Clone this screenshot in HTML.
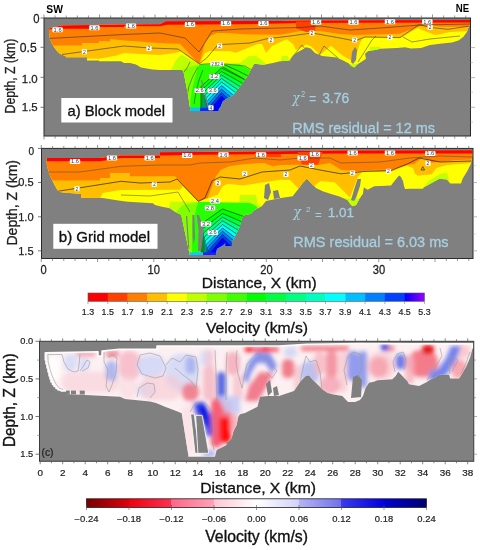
<!DOCTYPE html><html><head><meta charset="utf-8"><title>Velocity models</title><style>html,body{margin:0;padding:0;background:#fff;}svg{display:block;}</style></head><body><svg width="480" height="550" viewBox="0 0 480 550"><rect width="480" height="550" fill="#fff"/><rect x="44" y="18" width="426.5" height="118" fill="#808080"/><clipPath id="cA"><polygon points="49.0,28.5 55.0,27.0 62.0,25.5 124.0,24.5 160.0,24.3 166.0,21.3 280.0,21.0 300.0,20.5 470.5,20.0 470.5,25.5 469.0,25.5 467.0,31.8 463.5,36.8 458.5,40.5 452.0,42.4 442.0,43.6 430.0,44.9 421.0,48.0 411.0,48.6 405.0,47.2 397.0,48.0 380.0,48.8 376.7,49.7 371.7,50.5 368.0,51.3 365.0,53.8 366.0,58.8 361.6,61.7 357.2,64.6 354.3,67.6 351.4,66.1 348.5,63.2 342.6,60.3 336.8,57.4 322.2,55.9 315.0,53.0 310.6,48.6 306.2,47.2 301.8,50.0 296.0,53.0 293.0,55.5 290.0,60.5 280.0,61.3 273.0,63.0 263.3,64.7 254.3,63.7 251.0,69.2 247.7,75.7 243.4,81.2 239.0,87.8 232.5,95.4 226.0,98.7 222.6,100.9 220.5,106.3 218.3,109.6 218.3,111.0 190.5,111.0 190.0,107.4 187.8,93.2 184.5,76.8 183.5,71.4 182.0,70.0 160.0,70.0 152.5,69.4 141.0,67.5 136.0,64.4 130.0,63.0 124.0,63.0 121.0,61.3 99.0,61.3 99.0,60.5 87.0,60.5 87.0,57.2 66.0,57.2 65.7,56.3 59.8,53.8 56.5,50.5 54.0,47.0 51.5,43.0 49.8,38.0 49.0,31.0"/></clipPath><g clip-path="url(#cA)"><rect x="40" y="15" width="440" height="120" fill="#ffff00"/><polygon points="44.0,600.0 44.0,72.0 170.0,72.0 176.0,60.0 181.0,55.0 184.0,56.0 199.3,64.5 205.0,63.0 240.0,63.0 249.0,56.0 256.0,56.0 263.0,61.0 266.0,64.0 280.0,64.0 282.0,56.0 288.0,56.0 290.0,64.0 368.0,64.0 370.0,47.0 380.0,47.0 382.0,64.0 471.0,64.0 471.0,600.0" fill="#bfff00"/><polygon points="176.0,600.0 176.0,74.0 182.0,70.0 190.0,67.0 197.0,65.0 199.3,64.6 205.0,64.8 240.0,64.8 247.0,67.0 256.0,74.0 256.0,600.0" fill="#80ff00"/><polygon points="199.3,64.5 240,64.5 250,70 256,76 256,115 190,115 190.5,100 192,90 194.5,80 196.5,72" fill="#28ff00"/><polygon points="221.5,68.0 301.5,108.0 301.5,122.0 201.0,122.0 201.0,86.5" fill="#00ff00"/><polygon points="221.5,71.5 301.5,116.5 301.5,122.0 202.1,122.0 202.1,89.7" fill="#00ff40"/><polygon points="221.5,75.0 301.5,125.0 301.5,122.0 203.2,122.0 203.2,92.8" fill="#00ff80"/><polygon points="221.5,78.5 301.5,133.5 301.5,122.0 204.4,122.0 204.4,95.8" fill="#00ffbf"/><polygon points="221.5,82.0 301.5,142.0 301.5,122.0 205.5,122.0 205.5,98.8" fill="#00ffff"/><polygon points="221.5,85.5 301.5,150.5 301.5,122.0 206.6,122.0 206.6,101.7" fill="#00bfff"/><polygon points="221.5,89.0 301.5,159.0 301.5,122.0 207.8,122.0 207.8,104.5" fill="#0080ff"/><polygon points="221.5,92.5 301.5,167.5 301.5,122.0 208.9,122.0 208.9,107.2" fill="#0040ff"/><polygon points="221.5,96.0 301.5,176.0 301.5,122.0 210.0,122.0 210.0,109.8" fill="#0000ff"/><polyline points="200.7,117.0 201.0,86.5 221.5,68.0 301.5,108.0" fill="none" stroke="#101810" stroke-width="0.55" /><polyline points="201.8,117.0 202.1,89.7 221.5,71.5 301.5,116.5" fill="none" stroke="#101810" stroke-width="0.55" /><polyline points="202.9,117.0 203.2,92.8 221.5,75.0 301.5,125.0" fill="none" stroke="#101810" stroke-width="0.55" /><polyline points="204.1,117.0 204.4,95.8 221.5,78.5 301.5,133.5" fill="none" stroke="#101810" stroke-width="0.55" /><polyline points="205.2,117.0 205.5,98.8 221.5,82.0 301.5,142.0" fill="none" stroke="#101810" stroke-width="0.55" /><polyline points="206.3,117.0 206.6,101.7 221.5,85.5 301.5,150.5" fill="none" stroke="#101810" stroke-width="0.55" /><polyline points="207.4,117.0 207.8,104.5 221.5,89.0 301.5,159.0" fill="none" stroke="#101810" stroke-width="0.55" /><polyline points="208.6,117.0 208.9,107.2 221.5,92.5 301.5,167.5" fill="none" stroke="#101810" stroke-width="0.55" /><polyline points="209.7,117.0 210.0,109.8 221.5,96.0 301.5,176.0" fill="none" stroke="#101810" stroke-width="0.55" /><line x1="201.5" y1="80" x2="208.5" y2="108" stroke="#808080" stroke-width="1.1"/><polyline points="224.0,64.5 238.0,70.8 248.0,76.0" fill="none" stroke="#101810" stroke-width="0.55" /><polyline points="222.0,66.5 238.0,75.5 244.0,79.0" fill="none" stroke="#101810" stroke-width="0.55" /><rect x="190" y="107.5" width="18" height="4" fill="#00c8ff"/><rect x="200" y="107.5" width="12" height="4" fill="#0030ff"/><polygon points="44.0,0.0 44.0,58.0 99.0,58.8 117.0,55.5 124.0,53.0 140.0,54.0 160.0,55.0 175.0,53.0 182.0,51.0 187.0,56.0 199.3,64.5 205.0,53.0 210.0,51.0 230.0,51.3 236.0,52.7 250.0,47.0 258.0,44.0 262.0,44.0 266.0,53.0 272.0,46.0 286.7,39.3 293.0,44.0 296.0,50.0 301.8,47.0 306.2,44.5 310.6,46.0 315.0,50.0 320.0,55.0 331.0,45.7 342.0,55.0 348.5,59.0 354.3,61.7 360.0,42.8 363.0,38.4 366.0,37.0 400.0,38.0 418.0,28.0 422.0,30.0 435.0,35.0 440.0,34.3 450.0,32.0 471.0,31.0 471.0,0.0" fill="#ffbf00"/><polygon points="44.0,0.0 44.0,45.5 82.0,45.5 82.0,43.0 99.0,43.0 99.0,41.3 110.0,41.3 110.0,39.0 124.0,40.5 140.0,41.5 150.0,42.5 175.0,43.8 180.0,43.8 199.3,64.3 205.0,43.0 210.0,36.3 216.7,33.0 225.0,33.0 250.0,34.5 280.0,34.7 290.0,33.0 300.0,31.0 320.0,31.0 340.0,34.0 355.0,35.0 400.0,33.8 410.0,30.0 420.0,26.0 430.0,25.0 440.0,26.8 471.0,26.8 471.0,0.0" fill="#ff8000"/><polygon points="44.0,0.0 44.0,29.5 62.0,28.8 90.0,28.8 90.0,27.0 124.0,27.0 124.0,26.3 160.0,26.3 167.0,24.7 240.0,24.3 280.0,23.5 300.0,23.0 360.0,22.7 471.0,22.4 471.0,0.0" fill="#ff0000"/><polygon points="296.0,21.5 296.0,28.2 306.2,31.9 315.0,31.1 316.4,21.5" fill="#ff4000"/><polyline points="48.0,38.5 124.0,34.5 160.0,33.0 185.0,38.0 199.0,52.0 212.0,31.0 240.0,29.0 280.0,28.0 300.0,27.5 320.0,26.0 350.0,30.0 380.0,28.0 420.0,25.0 470.0,24.0" fill="none" stroke="#333" stroke-width="0.60" /><polyline points="62.0,54.5 124.0,46.0 150.0,48.0 178.0,49.0 199.3,63.8 206.7,58.0 218.0,44.7 250.0,43.0 266.7,38.8 290.0,36.0 312.0,33.0 340.0,38.0 355.0,41.0 365.0,37.0 390.0,37.5 400.0,37.6 419.0,24.7 430.0,27.4 448.0,29.3 470.0,26.0" fill="none" stroke="#333" stroke-width="0.60" /><polyline points="200.0,64.4 215.0,63.5 225.0,64.0 245.0,66.0 255.0,72.0" fill="none" stroke="#333" stroke-width="0.50" /><polyline points="290.0,60.0 302.0,45.0 312.0,58.0" fill="none" stroke="#333" stroke-width="0.50" /><polyline points="318.0,57.0 324.0,46.0 338.0,58.0" fill="none" stroke="#333" stroke-width="0.50" /><polyline points="358.0,62.0 372.0,40.0 376.0,36.0" fill="none" stroke="#333" stroke-width="0.50" /><polyline points="403.0,37.0 412.0,42.0 430.0,39.0 460.0,36.0" fill="none" stroke="#333" stroke-width="0.50" /><polyline points="190.0,62.0 187.0,68.0 184.0,72.0" fill="none" stroke="#1a3a0a" stroke-width="0.50" /><polyline points="198.0,67.0 193.0,76.0 189.0,86.0 187.0,96.0" fill="none" stroke="#1a3a0a" stroke-width="0.50" /><polyline points="203.0,70.0 199.0,80.0 196.0,92.0 194.0,104.0" fill="none" stroke="#1a3a0a" stroke-width="0.50" /></g><polygon points="351,62 352,52 355,47 357,50 356,60 353,64" fill="#808080"/><rect x="52.4" y="27.2" width="10.4" height="5.0" rx="1" fill="#fff"/><text x="53.6" y="31.5" font-family="Liberation Sans, sans-serif" font-size="5.2" fill="#3a3a3a" textLength="8.0" lengthAdjust="spacingAndGlyphs">1.6</text><rect x="89.2" y="25.2" width="10.4" height="5.0" rx="1" fill="#fff"/><text x="90.4" y="29.5" font-family="Liberation Sans, sans-serif" font-size="5.2" fill="#3a3a3a" textLength="8.0" lengthAdjust="spacingAndGlyphs">1.6</text><rect x="81.8" y="49.2" width="5.2" height="5.0" rx="1" fill="#fff"/><text x="83.0" y="53.5" font-family="Liberation Sans, sans-serif" font-size="5.2" fill="#3a3a3a" textLength="2.8" lengthAdjust="spacingAndGlyphs">2</text><rect x="125.8" y="23.5" width="10.4" height="5.0" rx="1" fill="#fff"/><text x="127.0" y="27.8" font-family="Liberation Sans, sans-serif" font-size="5.2" fill="#3a3a3a" textLength="8.0" lengthAdjust="spacingAndGlyphs">1.6</text><rect x="146.4" y="45.9" width="5.2" height="5.0" rx="1" fill="#fff"/><text x="147.6" y="50.2" font-family="Liberation Sans, sans-serif" font-size="5.2" fill="#3a3a3a" textLength="2.8" lengthAdjust="spacingAndGlyphs">2</text><rect x="184.8" y="22.0" width="10.4" height="5.0" rx="1" fill="#fff"/><text x="186.0" y="26.3" font-family="Liberation Sans, sans-serif" font-size="5.2" fill="#3a3a3a" textLength="8.0" lengthAdjust="spacingAndGlyphs">1.6</text><rect x="220.8" y="20.9" width="10.4" height="5.0" rx="1" fill="#fff"/><text x="222.0" y="25.2" font-family="Liberation Sans, sans-serif" font-size="5.2" fill="#3a3a3a" textLength="8.0" lengthAdjust="spacingAndGlyphs">1.6</text><rect x="258.3" y="20.9" width="10.4" height="5.0" rx="1" fill="#fff"/><text x="259.5" y="25.2" font-family="Liberation Sans, sans-serif" font-size="5.2" fill="#3a3a3a" textLength="8.0" lengthAdjust="spacingAndGlyphs">1.6</text><rect x="217.0" y="43.5" width="5.2" height="5.0" rx="1" fill="#fff"/><text x="218.2" y="47.8" font-family="Liberation Sans, sans-serif" font-size="5.2" fill="#3a3a3a" textLength="2.8" lengthAdjust="spacingAndGlyphs">2</text><rect x="268.4" y="37.5" width="5.2" height="5.0" rx="1" fill="#fff"/><text x="269.6" y="41.8" font-family="Liberation Sans, sans-serif" font-size="5.2" fill="#3a3a3a" textLength="2.8" lengthAdjust="spacingAndGlyphs">2</text><rect x="310.8" y="19.7" width="10.4" height="5.0" rx="1" fill="#fff"/><text x="312.0" y="24.0" font-family="Liberation Sans, sans-serif" font-size="5.2" fill="#3a3a3a" textLength="8.0" lengthAdjust="spacingAndGlyphs">1.6</text><rect x="348.3" y="19.7" width="10.4" height="5.0" rx="1" fill="#fff"/><text x="349.5" y="24.0" font-family="Liberation Sans, sans-serif" font-size="5.2" fill="#3a3a3a" textLength="8.0" lengthAdjust="spacingAndGlyphs">1.6</text><rect x="309.4" y="30.5" width="5.2" height="5.0" rx="1" fill="#fff"/><text x="310.6" y="34.8" font-family="Liberation Sans, sans-serif" font-size="5.2" fill="#3a3a3a" textLength="2.8" lengthAdjust="spacingAndGlyphs">2</text><rect x="352.0" y="37.5" width="5.2" height="5.0" rx="1" fill="#fff"/><text x="353.2" y="41.8" font-family="Liberation Sans, sans-serif" font-size="5.2" fill="#3a3a3a" textLength="2.8" lengthAdjust="spacingAndGlyphs">2</text><rect x="384.8" y="19.3" width="10.4" height="5.0" rx="1" fill="#fff"/><text x="386.0" y="23.6" font-family="Liberation Sans, sans-serif" font-size="5.2" fill="#3a3a3a" textLength="8.0" lengthAdjust="spacingAndGlyphs">1.6</text><rect x="422.1" y="19.3" width="10.4" height="5.0" rx="1" fill="#fff"/><text x="423.3" y="23.6" font-family="Liberation Sans, sans-serif" font-size="5.2" fill="#3a3a3a" textLength="8.0" lengthAdjust="spacingAndGlyphs">1.6</text><rect x="387.4" y="35.1" width="5.2" height="5.0" rx="1" fill="#fff"/><text x="388.6" y="39.4" font-family="Liberation Sans, sans-serif" font-size="5.2" fill="#3a3a3a" textLength="2.8" lengthAdjust="spacingAndGlyphs">2</text><rect x="427.6" y="24.7" width="5.2" height="5.0" rx="1" fill="#fff"/><text x="428.8" y="29.0" font-family="Liberation Sans, sans-serif" font-size="5.2" fill="#3a3a3a" textLength="2.8" lengthAdjust="spacingAndGlyphs">2</text><rect x="210.2" y="61.2" width="14.0" height="5.0" rx="1" fill="#fff"/><text x="211.4" y="65.5" font-family="Liberation Sans, sans-serif" font-size="5.2" fill="#3a3a3a" textLength="11.6" lengthAdjust="spacingAndGlyphs">2.82.4</text><rect x="209.1" y="74.0" width="10.4" height="5.0" rx="1" fill="#fff"/><text x="210.3" y="78.3" font-family="Liberation Sans, sans-serif" font-size="5.2" fill="#3a3a3a" textLength="8.0" lengthAdjust="spacingAndGlyphs">3.2</text><rect x="194.5" y="87.9" width="10.4" height="5.0" rx="1" fill="#fff"/><text x="195.7" y="92.2" font-family="Liberation Sans, sans-serif" font-size="5.2" fill="#3a3a3a" textLength="8.0" lengthAdjust="spacingAndGlyphs">2.6</text><rect x="207.5" y="87.9" width="10.4" height="5.0" rx="1" fill="#fff"/><text x="208.7" y="92.2" font-family="Liberation Sans, sans-serif" font-size="5.2" fill="#3a3a3a" textLength="8.0" lengthAdjust="spacingAndGlyphs">3.6</text><rect x="208.4" y="105.3" width="5.2" height="5.0" rx="1" fill="#fff"/><text x="209.6" y="109.6" font-family="Liberation Sans, sans-serif" font-size="5.2" fill="#3a3a3a" textLength="2.8" lengthAdjust="spacingAndGlyphs">4</text><rect x="44" y="18" width="426.5" height="118" fill="none" stroke="#2a2a2a" stroke-width="1"/><rect x="41.5" y="148.4" width="431.5" height="110.1" fill="#808080"/><clipPath id="cB"><polygon points="46.8,158.0 100.0,158.0 121.0,155.5 160.0,155.5 160.0,152.2 281.0,151.3 341.0,150.5 472.5,150.3 472.5,154.0 471.0,163.4 467.3,171.0 462.6,178.8 461.0,183.4 450.3,183.4 447.0,179.6 439.5,178.8 438.0,179.6 424.0,187.3 422.6,188.8 410.0,188.8 405.0,189.0 404.0,186.0 403.0,181.0 401.0,177.0 399.3,175.5 397.7,177.0 394.3,181.3 391.0,185.5 374.3,186.3 367.7,189.7 363.8,187.5 363.0,193.8 361.2,196.2 358.8,200.0 356.2,205.0 352.5,206.2 350.0,203.8 347.5,200.0 338.8,196.2 331.0,194.0 322.7,191.3 316.0,188.0 311.0,183.0 306.8,178.8 302.7,183.0 297.7,189.7 292.7,196.3 281.0,198.0 266.0,201.0 262.0,206.0 258.3,208.1 254.5,210.0 250.8,213.8 243.3,215.6 241.4,219.4 239.5,227.0 235.8,234.4 233.0,240.0 231.8,240.0 231.8,246.0 225.5,246.0 225.5,242.5 223.0,245.0 216.8,248.8 215.5,253.8 215.5,255.0 189.8,255.0 189.3,252.5 181.4,215.6 180.0,214.2 175.0,211.7 170.0,208.3 162.0,206.7 155.0,205.0 153.0,203.3 128.0,201.7 120.0,200.8 102.7,198.0 81.0,198.0 81.0,194.0 61.0,192.2 57.7,190.5 55.2,186.3 52.7,181.3 50.2,176.3 48.5,171.3 46.8,164.7"/></clipPath><g clip-path="url(#cB)"><rect x="40" y="145" width="440" height="115" fill="#ffff00"/><polygon points="44.0,600.0 44.0,215.0 168.0,215.0 170.0,201.7 183.0,201.7 198.3,201.6 210.0,204.0 239.0,204.0 240.0,195.0 256.0,195.0 258.0,205.0 262.0,206.0 340.0,215.0 420.0,215.0 422.6,188.0 430.0,180.0 440.0,174.0 447.0,172.7 449.0,180.0 450.0,215.0 473.0,215.0 473.0,600.0" fill="#bfff00"/><polygon points="172.0,600.0 172.0,216.0 183.0,205.0 198.3,202.0 215.0,206.0 243.0,206.0 250.0,213.0 262.0,216.0 262.0,600.0" fill="#80ff00"/><polygon points="345,198.5 359,198.5 359,208 345,208" fill="#bfff00"/><polygon points="198.3,201.8 250,203 256,206 262,212 262,260 192,260 192,225" fill="#28ff00"/><polygon points="222.5,209.0 302.5,237.0 302.5,266.0 201.5,266.0 201.5,223.7" fill="#00ff00"/><polygon points="222.5,213.5 302.5,248.0 302.5,266.0 202.4,266.0 202.4,228.8" fill="#00ff40"/><polygon points="222.5,217.2 302.5,258.2 302.5,266.0 203.4,266.0 203.4,233.0" fill="#00ff80"/><polygon points="222.5,220.8 302.5,268.3 302.5,266.0 204.3,266.0 204.3,236.9" fill="#00ffbf"/><polygon points="222.5,224.5 302.5,278.5 302.5,266.0 205.2,266.0 205.2,240.9" fill="#00ffff"/><polygon points="222.5,228.0 302.5,288.5 302.5,266.0 206.2,266.0 206.2,244.5" fill="#00bfff"/><polygon points="222.5,231.2 302.5,298.2 302.5,266.0 207.1,266.0 207.1,247.8" fill="#0080ff"/><polygon points="222.5,234.5 302.5,308.0 302.5,266.0 208.1,266.0 208.1,250.9" fill="#0040ff"/><polygon points="222.5,238.0 302.5,318.0 302.5,266.0 209.0,266.0 209.0,254.2" fill="#0000ff"/><polyline points="201.2,261.0 201.5,223.7 222.5,209.0 302.5,237.0" fill="none" stroke="#101810" stroke-width="0.55" /><polyline points="202.1,261.0 202.4,228.8 222.5,213.5 302.5,248.0" fill="none" stroke="#101810" stroke-width="0.55" /><polyline points="203.1,261.0 203.4,233.0 222.5,217.2 302.5,258.2" fill="none" stroke="#101810" stroke-width="0.55" /><polyline points="204.0,261.0 204.3,236.9 222.5,220.8 302.5,268.3" fill="none" stroke="#101810" stroke-width="0.55" /><polyline points="204.9,261.0 205.2,240.9 222.5,224.5 302.5,278.5" fill="none" stroke="#101810" stroke-width="0.55" /><polyline points="205.9,261.0 206.2,244.5 222.5,228.0 302.5,288.5" fill="none" stroke="#101810" stroke-width="0.55" /><polyline points="206.8,261.0 207.1,247.8 222.5,231.2 302.5,298.2" fill="none" stroke="#101810" stroke-width="0.55" /><polyline points="207.8,261.0 208.1,250.9 222.5,234.5 302.5,308.0" fill="none" stroke="#101810" stroke-width="0.55" /><polyline points="208.7,261.0 209.0,254.2 222.5,238.0 302.5,318.0" fill="none" stroke="#101810" stroke-width="0.55" /><rect x="189" y="252.3" width="14" height="3" fill="#00d0ff"/><rect x="203" y="252.3" width="13" height="3" fill="#2020ff"/><polygon points="44.0,0.0 44.0,199.0 100.0,199.0 102.7,193.0 121.0,190.0 180.0,189.7 183.0,186.0 198.3,201.6 217.7,194.7 222.7,186.3 227.7,183.8 242.7,185.5 259.3,183.0 281.0,179.7 290.0,180.0 300.0,190.0 310.0,190.0 318.0,183.0 321.0,181.0 335.0,182.5 350.0,197.5 357.5,177.5 362.0,172.0 391.0,172.0 400.0,168.0 407.0,166.0 413.0,168.0 415.0,174.0 418.0,175.7 431.8,174.2 436.4,168.0 447.0,165.0 473.0,163.0 473.0,0.0" fill="#ffbf00"/><polygon points="44.0,0.0 44.0,180.5 100.0,180.5 100.0,178.0 110.0,178.0 110.0,173.0 130.0,173.0 130.0,176.3 175.0,176.3 198.3,201.6 207.7,198.0 212.7,184.7 216.0,176.3 221.0,169.7 229.3,166.3 239.3,164.7 251.0,163.8 264.3,163.0 272.7,166.3 281.0,165.0 300.0,164.7 320.0,164.7 330.0,163.0 341.0,169.7 357.7,171.3 374.3,169.7 391.0,169.7 407.7,164.7 414.0,164.0 421.0,158.8 424.0,157.2 428.7,163.0 439.5,162.0 455.0,160.3 473.0,159.6 473.0,0.0" fill="#ff8000"/><polygon points="44.0,0.0 44.0,161.3 100.0,161.3 121.0,158.0 160.0,158.0 160.0,155.5 201.0,154.7 281.0,154.0 341.0,153.5 401.0,153.4 473.0,153.4 473.0,0.0" fill="#ff0000"/><polygon points="297.7,152.0 322.7,152.0 318.0,164.7 302.0,164.7" fill="#ff4000"/><rect x="255" y="154" width="26" height="3" fill="#ff4000"/><polygon points="186,216 187.2,216 189.3,249 188.2,249" fill="#808080"/><polygon points="192.3,215 194.3,215 195,238 193.8,244 192.8,238" fill="#808080"/><polygon points="196.7,215 199,215 203.9,230 201,251 198,251 198.6,230" fill="#808080"/><polygon points="265,185 269,183 271,192 268,200 264,198" fill="#808080"/><polygon points="273,191 278,190 280,198 274,199" fill="#808080"/><polygon points="351,200 354,190 357.5,179 361,179 360,186 356,198 354,201" fill="#808080"/><polyline points="48.0,172.0 80.0,172.0 121.0,166.3 160.0,165.0 190.0,165.0 200.0,163.0 230.0,162.0 255.0,158.0 280.0,160.0 300.0,158.0 330.0,158.0 341.0,163.0 380.0,162.0 410.0,158.0 440.0,156.0 472.0,157.0" fill="none" stroke="#443" stroke-width="0.50" /><polyline points="57.7,191.3 121.0,181.3 140.0,183.0 170.0,182.0 177.0,179.0 198.3,201.3 205.0,198.0 212.0,181.0 220.0,177.0 240.0,179.0 262.0,172.0 290.0,170.0 300.0,166.0 320.0,170.0 341.0,173.8 366.0,171.3 391.0,170.5 407.7,163.8 419.0,158.0 440.0,162.0 472.0,161.0" fill="none" stroke="#222" stroke-width="0.70" /><polyline points="121.0,195.0 150.0,196.0 178.0,192.0 190.0,212.0" fill="none" stroke="#443" stroke-width="0.50" /></g><rect x="69.8" y="159.0" width="10.4" height="5.0" rx="1" fill="#fff"/><text x="71.0" y="163.3" font-family="Liberation Sans, sans-serif" font-size="5.2" fill="#3a3a3a" textLength="8.0" lengthAdjust="spacingAndGlyphs">1.6</text><rect x="106.8" y="155.5" width="10.4" height="5.0" rx="1" fill="#fff"/><text x="108.0" y="159.8" font-family="Liberation Sans, sans-serif" font-size="5.2" fill="#3a3a3a" textLength="8.0" lengthAdjust="spacingAndGlyphs">1.6</text><rect x="144.5" y="155.5" width="10.4" height="5.0" rx="1" fill="#fff"/><text x="145.7" y="159.8" font-family="Liberation Sans, sans-serif" font-size="5.2" fill="#3a3a3a" textLength="8.0" lengthAdjust="spacingAndGlyphs">1.6</text><rect x="182.0" y="153.0" width="10.4" height="5.0" rx="1" fill="#fff"/><text x="183.2" y="157.3" font-family="Liberation Sans, sans-serif" font-size="5.2" fill="#3a3a3a" textLength="8.0" lengthAdjust="spacingAndGlyphs">1.6</text><rect x="218.3" y="152.2" width="10.4" height="5.0" rx="1" fill="#fff"/><text x="219.5" y="156.5" font-family="Liberation Sans, sans-serif" font-size="5.2" fill="#3a3a3a" textLength="8.0" lengthAdjust="spacingAndGlyphs">1.6</text><rect x="255.8" y="152.2" width="10.4" height="5.0" rx="1" fill="#fff"/><text x="257.0" y="156.5" font-family="Liberation Sans, sans-serif" font-size="5.2" fill="#3a3a3a" textLength="8.0" lengthAdjust="spacingAndGlyphs">1.6</text><rect x="297.5" y="155.5" width="10.4" height="5.0" rx="1" fill="#fff"/><text x="298.7" y="159.8" font-family="Liberation Sans, sans-serif" font-size="5.2" fill="#3a3a3a" textLength="8.0" lengthAdjust="spacingAndGlyphs">1.6</text><rect x="309.8" y="151.8" width="10.4" height="5.0" rx="1" fill="#fff"/><text x="311.0" y="156.1" font-family="Liberation Sans, sans-serif" font-size="5.2" fill="#3a3a3a" textLength="8.0" lengthAdjust="spacingAndGlyphs">1.6</text><rect x="347.5" y="150.5" width="10.4" height="5.0" rx="1" fill="#fff"/><text x="348.7" y="154.8" font-family="Liberation Sans, sans-serif" font-size="5.2" fill="#3a3a3a" textLength="8.0" lengthAdjust="spacingAndGlyphs">1.6</text><rect x="384.8" y="150.5" width="10.4" height="5.0" rx="1" fill="#fff"/><text x="386.0" y="154.8" font-family="Liberation Sans, sans-serif" font-size="5.2" fill="#3a3a3a" textLength="8.0" lengthAdjust="spacingAndGlyphs">1.6</text><rect x="425.1" y="150.9" width="10.4" height="5.0" rx="1" fill="#fff"/><text x="426.3" y="155.2" font-family="Liberation Sans, sans-serif" font-size="5.2" fill="#3a3a3a" textLength="8.0" lengthAdjust="spacingAndGlyphs">1.6</text><rect x="74.4" y="186.3" width="5.2" height="5.0" rx="1" fill="#fff"/><text x="75.6" y="190.6" font-family="Liberation Sans, sans-serif" font-size="5.2" fill="#3a3a3a" textLength="2.8" lengthAdjust="spacingAndGlyphs">2</text><rect x="151.7" y="182.0" width="5.2" height="5.0" rx="1" fill="#fff"/><text x="152.9" y="186.3" font-family="Liberation Sans, sans-serif" font-size="5.2" fill="#3a3a3a" textLength="2.8" lengthAdjust="spacingAndGlyphs">2</text><rect x="215.4" y="180.5" width="5.2" height="5.0" rx="1" fill="#fff"/><text x="216.6" y="184.8" font-family="Liberation Sans, sans-serif" font-size="5.2" fill="#3a3a3a" textLength="2.8" lengthAdjust="spacingAndGlyphs">2</text><rect x="242.1" y="171.3" width="5.2" height="5.0" rx="1" fill="#fff"/><text x="243.3" y="175.6" font-family="Liberation Sans, sans-serif" font-size="5.2" fill="#3a3a3a" textLength="2.8" lengthAdjust="spacingAndGlyphs">2</text><rect x="283.4" y="172.0" width="5.2" height="5.0" rx="1" fill="#fff"/><text x="284.6" y="176.3" font-family="Liberation Sans, sans-serif" font-size="5.2" fill="#3a3a3a" textLength="2.8" lengthAdjust="spacingAndGlyphs">2</text><rect x="308.9" y="163.0" width="5.2" height="5.0" rx="1" fill="#fff"/><text x="310.1" y="167.3" font-family="Liberation Sans, sans-serif" font-size="5.2" fill="#3a3a3a" textLength="2.8" lengthAdjust="spacingAndGlyphs">2</text><rect x="349.9" y="170.5" width="5.2" height="5.0" rx="1" fill="#fff"/><text x="351.1" y="174.8" font-family="Liberation Sans, sans-serif" font-size="5.2" fill="#3a3a3a" textLength="2.8" lengthAdjust="spacingAndGlyphs">2</text><rect x="385.9" y="168.8" width="5.2" height="5.0" rx="1" fill="#fff"/><text x="387.1" y="173.1" font-family="Liberation Sans, sans-serif" font-size="5.2" fill="#3a3a3a" textLength="2.8" lengthAdjust="spacingAndGlyphs">2</text><rect x="425.4" y="160.8" width="5.2" height="5.0" rx="1" fill="#fff"/><text x="426.6" y="165.1" font-family="Liberation Sans, sans-serif" font-size="5.2" fill="#3a3a3a" textLength="2.8" lengthAdjust="spacingAndGlyphs">2</text><rect x="209.8" y="198.5" width="10.4" height="5.0" rx="1" fill="#fff"/><text x="211.0" y="202.8" font-family="Liberation Sans, sans-serif" font-size="5.2" fill="#3a3a3a" textLength="8.0" lengthAdjust="spacingAndGlyphs">2.4</text><rect x="204.8" y="205.5" width="10.4" height="5.0" rx="1" fill="#fff"/><text x="206.0" y="209.8" font-family="Liberation Sans, sans-serif" font-size="5.2" fill="#3a3a3a" textLength="8.0" lengthAdjust="spacingAndGlyphs">2.8</text><rect x="200.8" y="221.5" width="10.4" height="5.0" rx="1" fill="#fff"/><text x="202.0" y="225.8" font-family="Liberation Sans, sans-serif" font-size="5.2" fill="#3a3a3a" textLength="8.0" lengthAdjust="spacingAndGlyphs">3.2</text><rect x="207.6" y="230.0" width="10.4" height="5.0" rx="1" fill="#fff"/><text x="208.8" y="234.3" font-family="Liberation Sans, sans-serif" font-size="5.2" fill="#3a3a3a" textLength="8.0" lengthAdjust="spacingAndGlyphs">3.6</text><polygon points="421,170 422.8,166.6 424.6,170" fill="none" stroke="#222" stroke-width="0.7"/><rect x="41.5" y="148.4" width="431.5" height="110.1" fill="none" stroke="#2a2a2a" stroke-width="1"/><rect x="39.5" y="341.3" width="434.25" height="119.95" fill="#808080"/><clipPath id="cC"><polygon points="45.3,352.7 98.0,351.8 98.0,356.0 102.0,356.0 102.0,351.0 119.0,349.3 157.0,349.3 157.0,346.0 199.0,346.0 279.0,346.0 307.0,344.3 359.0,343.5 414.0,343.8 472.5,343.8 472.5,348.5 470.2,357.2 466.5,366.0 461.5,374.8 459.0,378.5 450.2,378.5 449.0,374.8 439.0,374.8 435.2,377.2 430.2,379.8 426.5,382.2 421.5,384.8 419.0,386.0 409.0,384.3 407.3,381.0 404.0,377.7 400.7,374.3 398.2,371.8 395.7,376.0 392.3,379.3 377.3,380.2 374.0,381.8 369.0,382.7 365.7,387.7 363.0,396.0 360.0,400.0 355.0,402.0 348.0,402.0 342.3,396.0 332.3,394.3 327.3,392.7 322.3,389.3 317.3,384.3 312.3,379.3 309.0,375.2 305.7,376.0 300.7,381.0 297.3,386.0 294.0,391.0 279.0,396.0 268.0,396.0 260.0,396.8 257.5,406.8 250.0,410.5 245.0,413.0 240.0,414.2 238.3,416.7 236.7,425.0 233.3,431.7 231.7,438.3 228.3,441.7 226.7,445.0 216.7,450.0 215.0,456.7 188.3,456.7 188.3,455.0 181.7,413.3 175.0,410.5 165.0,406.8 156.0,403.0 150.0,401.5 140.0,400.5 125.0,399.0 120.0,396.8 66.0,394.0 66.0,391.0 61.0,391.0 61.0,390.0 58.0,390.0 58.0,388.5 56.0,388.5 56.0,386.5 54.0,386.5 54.0,384.5 52.5,384.5 52.5,382.0 51.0,382.0 51.0,379.0 50.0,379.0 50.0,376.0 49.0,376.0 49.0,372.0 48.0,372.0 48.0,368.0 47.0,368.0 47.0,364.0 46.0,364.0 46.0,360.0 45.3,360.0"/></clipPath><filter id="bl" x="-50%" y="-50%" width="200%" height="200%"><feGaussianBlur stdDeviation="2.3"/></filter><g clip-path="url(#cC)"><rect x="38" y="340" width="440" height="122" fill="#fcf0f2"/><g filter="url(#bl)"><rect x="62" y="372" width="57" height="20" rx="9.1" fill="#f8d2da" opacity="0.7"/><rect x="64" y="354" width="13" height="17" rx="5.9" fill="#d6daf8" opacity="0.9"/><rect x="79" y="358" width="10" height="13" rx="4.5" fill="#d6daf8" opacity="0.9"/><rect x="105.7" y="361" width="11.3" height="20" rx="5.1" fill="#a8b2ee" opacity="0.9"/><rect x="75.7" y="351" width="20" height="6" rx="2.7" fill="#f4a0b0" opacity="0.8"/><rect x="105.7" y="351" width="13.3" height="6" rx="2.7" fill="#f08090" opacity="0.9"/><rect x="48" y="356" width="12" height="24" rx="5.5" fill="#ffffff" opacity="0.8"/><rect x="119" y="351" width="21" height="29" rx="9.5" fill="#f6b4c2" opacity="0.8"/><rect x="137" y="355" width="28" height="22" rx="10.0" fill="#d2d7f7" opacity="0.9"/><rect x="137" y="383" width="18" height="14" rx="6.4" fill="#d8dcf8" opacity="0.9"/><rect x="165.7" y="354" width="33.3" height="37" rx="15.1" fill="#d0d6f6" opacity="0.8"/><rect x="185.7" y="356" width="10" height="18" rx="4.5" fill="#a6b0ee" opacity="0.9"/><rect x="182" y="383" width="17" height="18" rx="7.7" fill="#f07888" opacity="0.9"/><rect x="140" y="375" width="42" height="25" rx="11.4" fill="#f6c8d0" opacity="0.6"/><rect x="119" y="375" width="18" height="24" rx="8.2" fill="#f8d4da" opacity="0.5"/><rect x="244" y="347" width="35" height="5" rx="2.3" fill="#f45060" opacity="0.9"/><rect x="245.7" y="347" width="6.6" height="5" rx="2.3" fill="#ff1010" opacity="1"/><rect x="262" y="347" width="7" height="5" rx="2.3" fill="#ff1818" opacity="1"/><rect x="217" y="372" width="8.7" height="29" rx="4.0" fill="#5a6ae2" opacity="1"/><rect x="226" y="352" width="14" height="23" rx="6.4" fill="#f4a8b6" opacity="0.8"/><rect x="200" y="350" width="12" height="16" rx="5.5" fill="#d6daf8" opacity="0.9"/><rect x="203" y="366" width="12" height="34" rx="5.5" fill="#f4b4c0" opacity="0.8"/><rect x="233" y="375" width="10" height="25" rx="4.5" fill="#f6c0ca" opacity="0.8"/><rect x="282" y="359" width="12" height="19" rx="5.5" fill="#f07080" opacity="0.9"/><rect x="325.7" y="351" width="11.6" height="27" rx="5.3" fill="#f07888" opacity="0.75"/><rect x="300.7" y="346" width="48.3" height="5" rx="2.3" fill="#f05060" opacity="0.7"/><rect x="284" y="347" width="13" height="10" rx="4.5" fill="#d0d6f6" opacity="0.9"/><rect x="300.7" y="361" width="18.3" height="23" rx="8.3" fill="#b4bcf0" opacity="0.9"/><rect x="347.3" y="351" width="11.7" height="30" rx="5.3" fill="#8692ee" opacity="0.9"/><rect x="314" y="352" width="11" height="23" rx="5.0" fill="#f6b4c0" opacity="0.8"/><rect x="338" y="352" width="9" height="40" rx="4.1" fill="#f8c8d0" opacity="0.8"/><rect x="320" y="376" width="20" height="18" rx="8.2" fill="#f4a0b0" opacity="0.8"/><rect x="294" y="365" width="6" height="25" rx="2.7" fill="#f8c0c8" opacity="0.8"/><rect x="370" y="357" width="18" height="20" rx="8.2" fill="#ef5a6c" opacity="0.95"/><rect x="408" y="350" width="30" height="27" rx="12.3" fill="#f26878" opacity="0.85"/><rect x="422" y="345" width="12" height="9" rx="4.1" fill="#e41818" opacity="1"/><rect x="359" y="351" width="8" height="36.7" rx="3.6" fill="#8894ea" opacity="0.9"/><rect x="381" y="344" width="9" height="7" rx="3.2" fill="#3a4ae0" opacity="1"/><rect x="395.7" y="354.3" width="10" height="15" rx="4.5" fill="#6c7ce8" opacity="1"/><rect x="429" y="369.3" width="10" height="11.7" rx="4.5" fill="#8692ee" opacity="0.9"/><rect x="367" y="352" width="28" height="28" rx="12.7" fill="#f8c4cc" opacity="0.7"/><rect x="405" y="355" width="9" height="29" rx="4.1" fill="#f6b0bc" opacity="0.8"/><rect x="387" y="345" width="8" height="7" rx="3.2" fill="#f08898" opacity="0.8"/><rect x="451.5" y="359.75" width="15" height="18.75" rx="6.8" fill="#f6a0a8" opacity="0.9"/><rect x="453" y="345" width="17" height="13" rx="5.9" fill="#f8c0c8" opacity="0.8"/><rect x="182" y="405" width="14" height="47" rx="6.4" fill="#fbe0e4" opacity="0.8"/><rect x="203" y="450" width="12" height="7" rx="3.2" fill="#a8b0f0" opacity="0.9"/><rect x="211" y="398" width="11" height="49.5" rx="5.0" fill="#f4506a" opacity="0.9"/><rect x="219.7" y="416" width="11.3" height="27" rx="5.1" fill="#ff1010" opacity="1"/><rect x="222" y="400" width="10" height="18" rx="4.5" fill="#f26a80" opacity="0.9"/><rect x="230" y="414" width="8" height="18" rx="3.6" fill="#f4a0ae" opacity="0.8"/><rect x="183" y="412" width="9" height="40" rx="4.1" fill="#fce4e8" opacity="0.6"/><polygon points="193.0,404.0 203.0,401.0 211.0,415.0 212.0,436.0 207.0,436.0 202.2,416.0 195.7,416.0" fill="#4050ea" opacity="1"/><polygon points="198.0,406.0 205.0,405.0 209.0,418.0 209.0,427.0 205.0,427.0 201.0,414.0" fill="#0008e0" opacity="1"/><polygon points="217.0,396.0 240.0,396.0 240.0,414.0 226.0,412.0" fill="#c4caf4" opacity="0.9"/><polygon points="243.0,378.0 249.0,362.0 257.0,352.0 270.0,353.0 277.0,366.0 272.0,373.0 265.0,363.0 257.0,363.0 251.0,373.0 247.0,384.0" fill="#7d8ae8" opacity="0.95"/><polygon points="245.0,401.0 249.0,386.0 260.0,372.0 273.0,373.0 267.0,386.0 258.0,401.0" fill="#f07082" opacity="0.9"/><polygon points="205.0,350.0 214.0,350.0 214.0,401.0 205.0,401.0" fill="#f6c0ca" opacity="0.6"/><polygon points="428.0,381.0 436.0,372.0 446.0,358.0 451.0,346.0 461.0,346.0 456.0,360.0 447.0,374.0 439.0,381.0" fill="#6e7eee" opacity="0.95"/></g><polygon points="190.6,414 194.2,414 199.3,453.3 195,453.3" fill="#808080" stroke="#fff" stroke-width="0.8"/><polygon points="195.7,415.4 202.2,415.4 208.8,453.3 197.9,453.3" fill="#808080" stroke="#fff" stroke-width="0.8"/><polygon points="226.7,441.7 231.7,441.7 231.7,446.7 226.7,446.7" fill="#808080"/><polygon points="351,398 353,377 358,375 362,380 361,397" fill="#808080"/><polygon points="266,384 270,380 272,392 268,396" fill="#808080"/><rect x="66" y="390.6" width="3.75" height="4" fill="#808080"/><rect x="71" y="390.6" width="5" height="4" fill="#808080"/><rect x="79.75" y="390.6" width="5" height="4" fill="#808080"/><polygon points="273,388 277,386 279,395 274,396" fill="#808080"/><polyline points="80.0,354.0 79.0,365.0 78.0,371.0 74.0,372.0 68.0,369.0 64.0,362.0 62.0,354.5 47.8,354.5 48.2,362.0 50.2,370.0 53.0,378.0 56.0,384.0 59.5,388.5 63.0,389.5" fill="none" stroke="#9a9a9a" stroke-width="0.60" /><polyline points="80.0,371.0 84.0,365.0 87.0,360.0 90.0,362.0 88.0,368.0 82.0,371.0" fill="none" stroke="#9a9a9a" stroke-width="0.60" /><polyline points="104.0,352.0 104.0,362.0 108.0,370.0 106.0,386.0 109.0,392.0 112.0,385.0 116.0,372.0 117.0,358.0 113.0,355.0 108.0,357.0" fill="none" stroke="#9a9a9a" stroke-width="0.60" /><polyline points="140.0,355.0 137.0,365.0 142.0,374.0 155.0,378.0 163.0,376.0 166.0,368.0 160.0,356.0 150.0,353.0 140.0,355.0" fill="none" stroke="#9a9a9a" stroke-width="0.60" /><polyline points="137.0,397.0 139.0,388.0 147.0,383.0 154.0,384.0 155.0,392.0 150.0,398.0" fill="none" stroke="#9a9a9a" stroke-width="0.60" /><polyline points="166.0,365.0 172.0,358.0 180.0,362.0 186.0,355.0 196.0,357.0 198.0,370.0 196.0,388.0 190.0,380.0 183.0,375.0 175.0,368.0" fill="none" stroke="#9a9a9a" stroke-width="0.60" /><polyline points="237.0,350.0 236.0,362.0 238.0,374.0 242.0,388.0 244.0,378.0 247.0,364.0 256.0,354.0 266.0,356.0 270.0,363.0 277.0,371.0 272.0,378.0 266.0,372.0" fill="none" stroke="#9a9a9a" stroke-width="0.60" /><polyline points="215.0,350.0 216.0,372.0 217.0,400.0" fill="none" stroke="#9a9a9a" stroke-width="0.60" /><polyline points="227.0,352.0 226.0,372.0 226.0,400.0" fill="none" stroke="#9a9a9a" stroke-width="0.60" /><polyline points="190.0,412.0 196.0,402.0 206.0,403.0 212.0,412.0 214.0,428.0 212.0,440.0 214.0,450.0" fill="none" stroke="#9a9a9a" stroke-width="0.60" /><polyline points="300.0,382.0 304.0,364.0 306.0,356.0 310.0,362.0 316.0,360.0 320.0,372.0 322.0,389.0" fill="none" stroke="#9a9a9a" stroke-width="0.60" /><polyline points="347.0,385.0 344.0,370.0 348.0,356.0 354.0,352.0 360.0,354.0 362.0,366.0 358.0,378.0" fill="none" stroke="#9a9a9a" stroke-width="0.60" /><polyline points="395.0,372.0 393.0,362.0 397.0,354.0 403.0,352.0 406.0,360.0 404.0,370.0" fill="none" stroke="#9a9a9a" stroke-width="0.60" /><polyline points="440.0,348.0 442.0,356.0 436.0,366.0 427.0,380.0" fill="none" stroke="#9a9a9a" stroke-width="0.60" /><polyline points="450.0,374.0 448.0,362.0 452.0,356.0 458.0,360.0 455.0,366.0 452.0,372.0" fill="none" stroke="#9a9a9a" stroke-width="0.60" /><polyline points="461.0,374.0 466.0,363.0 470.0,352.0" fill="none" stroke="#9a9a9a" stroke-width="0.60" /></g><polyline points="66.0,391.0 61.0,391.0 61.0,390.0 58.0,390.0 58.0,388.5 56.0,388.5 56.0,386.5 54.0,386.5 54.0,384.5 52.5,384.5 52.5,382.0 51.0,382.0 51.0,379.0 50.0,379.0 50.0,376.0 49.0,376.0 49.0,372.0 48.0,372.0 48.0,368.0 47.0,368.0 47.0,364.0 46.0,364.0 46.0,360.0 45.3,360.0 45.3,352.7 98.0,351.8 98.0,356.0 102.0,356.0 102.0,351.0 119.0,349.3 157.0,349.3 157.0,346.0 199.0,346.0 279.0,346.0 307.0,344.3 359.0,343.5 414.0,343.8 472.5,343.8 472.5,348.5" fill="none" stroke="#ffffff" stroke-width="1.60" opacity="0.95" stroke-linejoin="round"/><rect x="39.5" y="341.3" width="434.25" height="119.95" fill="none" stroke="#3a3a3a" stroke-width="1"/><line x1="40.5" y1="18" x2="44" y2="18" stroke="#555" stroke-width="0.8"/><line x1="40.5" y1="47.3" x2="44" y2="47.3" stroke="#555" stroke-width="0.8"/><line x1="40.5" y1="77.3" x2="44" y2="77.3" stroke="#555" stroke-width="0.8"/><line x1="40.5" y1="107.3" x2="44" y2="107.3" stroke="#555" stroke-width="0.8"/><line x1="38" y1="148.4" x2="41.5" y2="148.4" stroke="#555" stroke-width="0.8"/><line x1="38" y1="182.5" x2="41.5" y2="182.5" stroke="#555" stroke-width="0.8"/><line x1="38" y1="216.8" x2="41.5" y2="216.8" stroke="#555" stroke-width="0.8"/><line x1="38" y1="250.8" x2="41.5" y2="250.8" stroke="#555" stroke-width="0.8"/><line x1="470.5" y1="47.6" x2="475" y2="47.6" stroke="#999" stroke-width="0.7"/><line x1="470.5" y1="77.6" x2="475" y2="77.6" stroke="#999" stroke-width="0.7"/><line x1="470.5" y1="107.3" x2="475" y2="107.3" stroke="#999" stroke-width="0.7"/><line x1="470.5" y1="62.5" x2="473" y2="62.5" stroke="#aaa" stroke-width="0.6"/><line x1="470.5" y1="92.3" x2="473" y2="92.3" stroke="#aaa" stroke-width="0.6"/><line x1="470.5" y1="122" x2="473" y2="122" stroke="#aaa" stroke-width="0.6"/><line x1="473" y1="182.5" x2="477" y2="182.5" stroke="#999" stroke-width="0.7"/><line x1="473" y1="216.8" x2="477" y2="216.8" stroke="#999" stroke-width="0.7"/><line x1="473" y1="250.8" x2="477" y2="250.8" stroke="#999" stroke-width="0.7"/><line x1="473" y1="165.5" x2="475.5" y2="165.5" stroke="#aaa" stroke-width="0.6"/><line x1="473" y1="199.6" x2="475.5" y2="199.6" stroke="#aaa" stroke-width="0.6"/><line x1="473" y1="233.8" x2="475.5" y2="233.8" stroke="#aaa" stroke-width="0.6"/><line x1="41.30" y1="258.5" x2="41.30" y2="262.00" stroke="#666" stroke-width="0.7"/><line x1="41.30" y1="148.4" x2="41.30" y2="144.90" stroke="#666" stroke-width="0.7"/><line x1="44.00" y1="136" x2="44.00" y2="139.50" stroke="#666" stroke-width="0.7"/><line x1="44.00" y1="18" x2="44.00" y2="14.50" stroke="#666" stroke-width="0.7"/><line x1="52.55" y1="258.5" x2="52.55" y2="261.00" stroke="#666" stroke-width="0.7"/><line x1="52.55" y1="148.4" x2="52.55" y2="145.90" stroke="#666" stroke-width="0.7"/><line x1="55.10" y1="136" x2="55.10" y2="138.50" stroke="#666" stroke-width="0.7"/><line x1="55.10" y1="18" x2="55.10" y2="15.50" stroke="#666" stroke-width="0.7"/><line x1="63.80" y1="258.5" x2="63.80" y2="261.00" stroke="#666" stroke-width="0.7"/><line x1="63.80" y1="148.4" x2="63.80" y2="145.90" stroke="#666" stroke-width="0.7"/><line x1="66.20" y1="136" x2="66.20" y2="138.50" stroke="#666" stroke-width="0.7"/><line x1="66.20" y1="18" x2="66.20" y2="15.50" stroke="#666" stroke-width="0.7"/><line x1="75.05" y1="258.5" x2="75.05" y2="261.00" stroke="#666" stroke-width="0.7"/><line x1="75.05" y1="148.4" x2="75.05" y2="145.90" stroke="#666" stroke-width="0.7"/><line x1="77.30" y1="136" x2="77.30" y2="138.50" stroke="#666" stroke-width="0.7"/><line x1="77.30" y1="18" x2="77.30" y2="15.50" stroke="#666" stroke-width="0.7"/><line x1="86.30" y1="258.5" x2="86.30" y2="261.00" stroke="#666" stroke-width="0.7"/><line x1="86.30" y1="148.4" x2="86.30" y2="145.90" stroke="#666" stroke-width="0.7"/><line x1="88.40" y1="136" x2="88.40" y2="138.50" stroke="#666" stroke-width="0.7"/><line x1="88.40" y1="18" x2="88.40" y2="15.50" stroke="#666" stroke-width="0.7"/><line x1="97.55" y1="258.5" x2="97.55" y2="262.00" stroke="#666" stroke-width="0.7"/><line x1="97.55" y1="148.4" x2="97.55" y2="144.90" stroke="#666" stroke-width="0.7"/><line x1="99.50" y1="136" x2="99.50" y2="139.50" stroke="#666" stroke-width="0.7"/><line x1="99.50" y1="18" x2="99.50" y2="14.50" stroke="#666" stroke-width="0.7"/><line x1="108.80" y1="258.5" x2="108.80" y2="261.00" stroke="#666" stroke-width="0.7"/><line x1="108.80" y1="148.4" x2="108.80" y2="145.90" stroke="#666" stroke-width="0.7"/><line x1="110.60" y1="136" x2="110.60" y2="138.50" stroke="#666" stroke-width="0.7"/><line x1="110.60" y1="18" x2="110.60" y2="15.50" stroke="#666" stroke-width="0.7"/><line x1="120.05" y1="258.5" x2="120.05" y2="261.00" stroke="#666" stroke-width="0.7"/><line x1="120.05" y1="148.4" x2="120.05" y2="145.90" stroke="#666" stroke-width="0.7"/><line x1="121.70" y1="136" x2="121.70" y2="138.50" stroke="#666" stroke-width="0.7"/><line x1="121.70" y1="18" x2="121.70" y2="15.50" stroke="#666" stroke-width="0.7"/><line x1="131.30" y1="258.5" x2="131.30" y2="261.00" stroke="#666" stroke-width="0.7"/><line x1="131.30" y1="148.4" x2="131.30" y2="145.90" stroke="#666" stroke-width="0.7"/><line x1="132.80" y1="136" x2="132.80" y2="138.50" stroke="#666" stroke-width="0.7"/><line x1="132.80" y1="18" x2="132.80" y2="15.50" stroke="#666" stroke-width="0.7"/><line x1="142.55" y1="258.5" x2="142.55" y2="261.00" stroke="#666" stroke-width="0.7"/><line x1="142.55" y1="148.4" x2="142.55" y2="145.90" stroke="#666" stroke-width="0.7"/><line x1="143.90" y1="136" x2="143.90" y2="138.50" stroke="#666" stroke-width="0.7"/><line x1="143.90" y1="18" x2="143.90" y2="15.50" stroke="#666" stroke-width="0.7"/><line x1="153.80" y1="258.5" x2="153.80" y2="262.00" stroke="#666" stroke-width="0.7"/><line x1="153.80" y1="148.4" x2="153.80" y2="144.90" stroke="#666" stroke-width="0.7"/><line x1="155.00" y1="136" x2="155.00" y2="139.50" stroke="#666" stroke-width="0.7"/><line x1="155.00" y1="18" x2="155.00" y2="14.50" stroke="#666" stroke-width="0.7"/><line x1="165.05" y1="258.5" x2="165.05" y2="261.00" stroke="#666" stroke-width="0.7"/><line x1="165.05" y1="148.4" x2="165.05" y2="145.90" stroke="#666" stroke-width="0.7"/><line x1="166.10" y1="136" x2="166.10" y2="138.50" stroke="#666" stroke-width="0.7"/><line x1="166.10" y1="18" x2="166.10" y2="15.50" stroke="#666" stroke-width="0.7"/><line x1="176.30" y1="258.5" x2="176.30" y2="261.00" stroke="#666" stroke-width="0.7"/><line x1="176.30" y1="148.4" x2="176.30" y2="145.90" stroke="#666" stroke-width="0.7"/><line x1="177.20" y1="136" x2="177.20" y2="138.50" stroke="#666" stroke-width="0.7"/><line x1="177.20" y1="18" x2="177.20" y2="15.50" stroke="#666" stroke-width="0.7"/><line x1="187.55" y1="258.5" x2="187.55" y2="261.00" stroke="#666" stroke-width="0.7"/><line x1="187.55" y1="148.4" x2="187.55" y2="145.90" stroke="#666" stroke-width="0.7"/><line x1="188.30" y1="136" x2="188.30" y2="138.50" stroke="#666" stroke-width="0.7"/><line x1="188.30" y1="18" x2="188.30" y2="15.50" stroke="#666" stroke-width="0.7"/><line x1="198.80" y1="258.5" x2="198.80" y2="261.00" stroke="#666" stroke-width="0.7"/><line x1="198.80" y1="148.4" x2="198.80" y2="145.90" stroke="#666" stroke-width="0.7"/><line x1="199.40" y1="136" x2="199.40" y2="138.50" stroke="#666" stroke-width="0.7"/><line x1="199.40" y1="18" x2="199.40" y2="15.50" stroke="#666" stroke-width="0.7"/><line x1="210.05" y1="258.5" x2="210.05" y2="262.00" stroke="#666" stroke-width="0.7"/><line x1="210.05" y1="148.4" x2="210.05" y2="144.90" stroke="#666" stroke-width="0.7"/><line x1="210.50" y1="136" x2="210.50" y2="139.50" stroke="#666" stroke-width="0.7"/><line x1="210.50" y1="18" x2="210.50" y2="14.50" stroke="#666" stroke-width="0.7"/><line x1="221.30" y1="258.5" x2="221.30" y2="261.00" stroke="#666" stroke-width="0.7"/><line x1="221.30" y1="148.4" x2="221.30" y2="145.90" stroke="#666" stroke-width="0.7"/><line x1="221.60" y1="136" x2="221.60" y2="138.50" stroke="#666" stroke-width="0.7"/><line x1="221.60" y1="18" x2="221.60" y2="15.50" stroke="#666" stroke-width="0.7"/><line x1="232.55" y1="258.5" x2="232.55" y2="261.00" stroke="#666" stroke-width="0.7"/><line x1="232.55" y1="148.4" x2="232.55" y2="145.90" stroke="#666" stroke-width="0.7"/><line x1="232.70" y1="136" x2="232.70" y2="138.50" stroke="#666" stroke-width="0.7"/><line x1="232.70" y1="18" x2="232.70" y2="15.50" stroke="#666" stroke-width="0.7"/><line x1="243.80" y1="258.5" x2="243.80" y2="261.00" stroke="#666" stroke-width="0.7"/><line x1="243.80" y1="148.4" x2="243.80" y2="145.90" stroke="#666" stroke-width="0.7"/><line x1="243.80" y1="136" x2="243.80" y2="138.50" stroke="#666" stroke-width="0.7"/><line x1="243.80" y1="18" x2="243.80" y2="15.50" stroke="#666" stroke-width="0.7"/><line x1="255.05" y1="258.5" x2="255.05" y2="261.00" stroke="#666" stroke-width="0.7"/><line x1="255.05" y1="148.4" x2="255.05" y2="145.90" stroke="#666" stroke-width="0.7"/><line x1="254.90" y1="136" x2="254.90" y2="138.50" stroke="#666" stroke-width="0.7"/><line x1="254.90" y1="18" x2="254.90" y2="15.50" stroke="#666" stroke-width="0.7"/><line x1="266.30" y1="258.5" x2="266.30" y2="262.00" stroke="#666" stroke-width="0.7"/><line x1="266.30" y1="148.4" x2="266.30" y2="144.90" stroke="#666" stroke-width="0.7"/><line x1="266.00" y1="136" x2="266.00" y2="139.50" stroke="#666" stroke-width="0.7"/><line x1="266.00" y1="18" x2="266.00" y2="14.50" stroke="#666" stroke-width="0.7"/><line x1="277.55" y1="258.5" x2="277.55" y2="261.00" stroke="#666" stroke-width="0.7"/><line x1="277.55" y1="148.4" x2="277.55" y2="145.90" stroke="#666" stroke-width="0.7"/><line x1="277.10" y1="136" x2="277.10" y2="138.50" stroke="#666" stroke-width="0.7"/><line x1="277.10" y1="18" x2="277.10" y2="15.50" stroke="#666" stroke-width="0.7"/><line x1="288.80" y1="258.5" x2="288.80" y2="261.00" stroke="#666" stroke-width="0.7"/><line x1="288.80" y1="148.4" x2="288.80" y2="145.90" stroke="#666" stroke-width="0.7"/><line x1="288.20" y1="136" x2="288.20" y2="138.50" stroke="#666" stroke-width="0.7"/><line x1="288.20" y1="18" x2="288.20" y2="15.50" stroke="#666" stroke-width="0.7"/><line x1="300.05" y1="258.5" x2="300.05" y2="261.00" stroke="#666" stroke-width="0.7"/><line x1="300.05" y1="148.4" x2="300.05" y2="145.90" stroke="#666" stroke-width="0.7"/><line x1="299.30" y1="136" x2="299.30" y2="138.50" stroke="#666" stroke-width="0.7"/><line x1="299.30" y1="18" x2="299.30" y2="15.50" stroke="#666" stroke-width="0.7"/><line x1="311.30" y1="258.5" x2="311.30" y2="261.00" stroke="#666" stroke-width="0.7"/><line x1="311.30" y1="148.4" x2="311.30" y2="145.90" stroke="#666" stroke-width="0.7"/><line x1="310.40" y1="136" x2="310.40" y2="138.50" stroke="#666" stroke-width="0.7"/><line x1="310.40" y1="18" x2="310.40" y2="15.50" stroke="#666" stroke-width="0.7"/><line x1="322.55" y1="258.5" x2="322.55" y2="262.00" stroke="#666" stroke-width="0.7"/><line x1="322.55" y1="148.4" x2="322.55" y2="144.90" stroke="#666" stroke-width="0.7"/><line x1="321.50" y1="136" x2="321.50" y2="139.50" stroke="#666" stroke-width="0.7"/><line x1="321.50" y1="18" x2="321.50" y2="14.50" stroke="#666" stroke-width="0.7"/><line x1="333.80" y1="258.5" x2="333.80" y2="261.00" stroke="#666" stroke-width="0.7"/><line x1="333.80" y1="148.4" x2="333.80" y2="145.90" stroke="#666" stroke-width="0.7"/><line x1="332.60" y1="136" x2="332.60" y2="138.50" stroke="#666" stroke-width="0.7"/><line x1="332.60" y1="18" x2="332.60" y2="15.50" stroke="#666" stroke-width="0.7"/><line x1="345.05" y1="258.5" x2="345.05" y2="261.00" stroke="#666" stroke-width="0.7"/><line x1="345.05" y1="148.4" x2="345.05" y2="145.90" stroke="#666" stroke-width="0.7"/><line x1="343.70" y1="136" x2="343.70" y2="138.50" stroke="#666" stroke-width="0.7"/><line x1="343.70" y1="18" x2="343.70" y2="15.50" stroke="#666" stroke-width="0.7"/><line x1="356.30" y1="258.5" x2="356.30" y2="261.00" stroke="#666" stroke-width="0.7"/><line x1="356.30" y1="148.4" x2="356.30" y2="145.90" stroke="#666" stroke-width="0.7"/><line x1="354.80" y1="136" x2="354.80" y2="138.50" stroke="#666" stroke-width="0.7"/><line x1="354.80" y1="18" x2="354.80" y2="15.50" stroke="#666" stroke-width="0.7"/><line x1="367.55" y1="258.5" x2="367.55" y2="261.00" stroke="#666" stroke-width="0.7"/><line x1="367.55" y1="148.4" x2="367.55" y2="145.90" stroke="#666" stroke-width="0.7"/><line x1="365.90" y1="136" x2="365.90" y2="138.50" stroke="#666" stroke-width="0.7"/><line x1="365.90" y1="18" x2="365.90" y2="15.50" stroke="#666" stroke-width="0.7"/><line x1="378.80" y1="258.5" x2="378.80" y2="262.00" stroke="#666" stroke-width="0.7"/><line x1="378.80" y1="148.4" x2="378.80" y2="144.90" stroke="#666" stroke-width="0.7"/><line x1="377.00" y1="136" x2="377.00" y2="139.50" stroke="#666" stroke-width="0.7"/><line x1="377.00" y1="18" x2="377.00" y2="14.50" stroke="#666" stroke-width="0.7"/><line x1="390.05" y1="258.5" x2="390.05" y2="261.00" stroke="#666" stroke-width="0.7"/><line x1="390.05" y1="148.4" x2="390.05" y2="145.90" stroke="#666" stroke-width="0.7"/><line x1="388.10" y1="136" x2="388.10" y2="138.50" stroke="#666" stroke-width="0.7"/><line x1="388.10" y1="18" x2="388.10" y2="15.50" stroke="#666" stroke-width="0.7"/><line x1="401.30" y1="258.5" x2="401.30" y2="261.00" stroke="#666" stroke-width="0.7"/><line x1="401.30" y1="148.4" x2="401.30" y2="145.90" stroke="#666" stroke-width="0.7"/><line x1="399.20" y1="136" x2="399.20" y2="138.50" stroke="#666" stroke-width="0.7"/><line x1="399.20" y1="18" x2="399.20" y2="15.50" stroke="#666" stroke-width="0.7"/><line x1="412.55" y1="258.5" x2="412.55" y2="261.00" stroke="#666" stroke-width="0.7"/><line x1="412.55" y1="148.4" x2="412.55" y2="145.90" stroke="#666" stroke-width="0.7"/><line x1="410.30" y1="136" x2="410.30" y2="138.50" stroke="#666" stroke-width="0.7"/><line x1="410.30" y1="18" x2="410.30" y2="15.50" stroke="#666" stroke-width="0.7"/><line x1="423.80" y1="258.5" x2="423.80" y2="261.00" stroke="#666" stroke-width="0.7"/><line x1="423.80" y1="148.4" x2="423.80" y2="145.90" stroke="#666" stroke-width="0.7"/><line x1="421.40" y1="136" x2="421.40" y2="138.50" stroke="#666" stroke-width="0.7"/><line x1="421.40" y1="18" x2="421.40" y2="15.50" stroke="#666" stroke-width="0.7"/><line x1="435.05" y1="258.5" x2="435.05" y2="262.00" stroke="#666" stroke-width="0.7"/><line x1="435.05" y1="148.4" x2="435.05" y2="144.90" stroke="#666" stroke-width="0.7"/><line x1="432.50" y1="136" x2="432.50" y2="139.50" stroke="#666" stroke-width="0.7"/><line x1="432.50" y1="18" x2="432.50" y2="14.50" stroke="#666" stroke-width="0.7"/><line x1="446.30" y1="258.5" x2="446.30" y2="261.00" stroke="#666" stroke-width="0.7"/><line x1="446.30" y1="148.4" x2="446.30" y2="145.90" stroke="#666" stroke-width="0.7"/><line x1="443.60" y1="136" x2="443.60" y2="138.50" stroke="#666" stroke-width="0.7"/><line x1="443.60" y1="18" x2="443.60" y2="15.50" stroke="#666" stroke-width="0.7"/><line x1="457.55" y1="258.5" x2="457.55" y2="261.00" stroke="#666" stroke-width="0.7"/><line x1="457.55" y1="148.4" x2="457.55" y2="145.90" stroke="#666" stroke-width="0.7"/><line x1="454.70" y1="136" x2="454.70" y2="138.50" stroke="#666" stroke-width="0.7"/><line x1="454.70" y1="18" x2="454.70" y2="15.50" stroke="#666" stroke-width="0.7"/><line x1="468.80" y1="258.5" x2="468.80" y2="261.00" stroke="#666" stroke-width="0.7"/><line x1="468.80" y1="148.4" x2="468.80" y2="145.90" stroke="#666" stroke-width="0.7"/><line x1="465.80" y1="136" x2="465.80" y2="138.50" stroke="#666" stroke-width="0.7"/><line x1="465.80" y1="18" x2="465.80" y2="15.50" stroke="#666" stroke-width="0.7"/><text x="46.30" y="12.50" font-family="Liberation Sans, sans-serif" font-size="10.14" font-weight="bold" fill="#000" textLength="16.60" lengthAdjust="spacingAndGlyphs" stroke="#000" stroke-width="0.00" >SW</text><text x="455.80" y="12.10" font-family="Liberation Sans, sans-serif" font-size="10.71" font-weight="bold" fill="#000" textLength="13.40" lengthAdjust="spacingAndGlyphs" stroke="#000" stroke-width="0.00" >NE</text><text x="33.30" y="23.30" font-family="Liberation Sans, sans-serif" font-size="12.00" font-weight="normal" fill="#222" textLength="6.30" lengthAdjust="spacingAndGlyphs" stroke="#222" stroke-width="0.26" >0</text><text x="19.80" y="51.70" font-family="Liberation Sans, sans-serif" font-size="12.00" font-weight="normal" fill="#222" textLength="16.90" lengthAdjust="spacingAndGlyphs" stroke="#222" stroke-width="0.26" >0.5</text><text x="21.80" y="83.20" font-family="Liberation Sans, sans-serif" font-size="11.71" font-weight="normal" fill="#222" textLength="15.90" lengthAdjust="spacingAndGlyphs" stroke="#222" stroke-width="0.26" >1.0</text><text x="21.80" y="110.50" font-family="Liberation Sans, sans-serif" font-size="11.43" font-weight="normal" fill="#222" textLength="15.90" lengthAdjust="spacingAndGlyphs" stroke="#222" stroke-width="0.25" >1.5</text><text transform="translate(15.00,113.40) rotate(-90)" x="0" y="0" font-family="Liberation Sans, sans-serif" font-size="14.57" fill="#222" stroke="#222" stroke-width="0.32" textLength="74.80" lengthAdjust="spacingAndGlyphs">Depth, Z (km)</text><rect x="61.3" y="98" width="111.2" height="24.5" fill="#fff"/><text x="67.50" y="116.30" font-family="Liberation Sans, sans-serif" font-size="14.71" font-weight="normal" fill="#111" textLength="97.50" lengthAdjust="spacingAndGlyphs" stroke="#111" stroke-width="0.32" >a) Block model</text><text transform="translate(292.3,102.8) scale(0.79,1)" font-family="DejaVu Serif, serif" font-style="italic" font-size="15.7" fill="#a6cfe0">χ</text><text x="301.00" y="97.40" font-family="Liberation Sans, sans-serif" font-size="9.40" font-weight="normal" font-style="normal" fill="#a6cfe0" textLength="4.20" lengthAdjust="spacingAndGlyphs">2</text><text x="309.00" y="104.20" font-family="Liberation Sans, sans-serif" font-size="15.00" font-weight="normal" font-style="normal" fill="#a6cfe0" textLength="7.30" lengthAdjust="spacingAndGlyphs">=</text><text x="322.20" y="103.20" font-family="Liberation Sans, sans-serif" font-size="14.57" font-weight="normal" fill="#a6cfe0" textLength="26.90" lengthAdjust="spacingAndGlyphs" stroke="#a6cfe0" stroke-width="0.32" >3.76</text><text x="292.30" y="132.60" font-family="Liberation Sans, sans-serif" font-size="15.14" font-weight="normal" fill="#a6cfe0" textLength="142.70" lengthAdjust="spacingAndGlyphs" stroke="#a6cfe0" stroke-width="0.33" >RMS residual = 12 ms</text><text x="28.40" y="154.80" font-family="Liberation Sans, sans-serif" font-size="11.14" font-weight="normal" fill="#222" textLength="5.60" lengthAdjust="spacingAndGlyphs" stroke="#222" stroke-width="0.25" >0</text><text x="18.20" y="186.00" font-family="Liberation Sans, sans-serif" font-size="11.43" font-weight="normal" fill="#222" textLength="15.40" lengthAdjust="spacingAndGlyphs" stroke="#222" stroke-width="0.25" >0.5</text><text x="18.20" y="220.60" font-family="Liberation Sans, sans-serif" font-size="11.43" font-weight="normal" fill="#222" textLength="15.40" lengthAdjust="spacingAndGlyphs" stroke="#222" stroke-width="0.25" >1.0</text><text x="18.20" y="255.00" font-family="Liberation Sans, sans-serif" font-size="11.43" font-weight="normal" fill="#222" textLength="15.40" lengthAdjust="spacingAndGlyphs" stroke="#222" stroke-width="0.25" >1.5</text><text transform="translate(17.30,245.50) rotate(-90)" x="0" y="0" font-family="Liberation Sans, sans-serif" font-size="14.29" fill="#222" stroke="#222" stroke-width="0.31" textLength="85.50" lengthAdjust="spacingAndGlyphs">Depth, Z (km)</text><rect x="53.3" y="223.8" width="104.2" height="25" fill="#fff"/><text x="58.80" y="242.00" font-family="Liberation Sans, sans-serif" font-size="15.29" font-weight="normal" fill="#111" textLength="91.20" lengthAdjust="spacingAndGlyphs" stroke="#111" stroke-width="0.34" >b) Grid model</text><text transform="translate(293.3,217) scale(0.85,1)" font-family="DejaVu Serif, serif" font-style="italic" font-size="15.1" fill="#a6cfe0">χ</text><text x="306.00" y="212.00" font-family="Liberation Sans, sans-serif" font-size="7.60" font-weight="normal" font-style="normal" fill="#a6cfe0" textLength="4.50" lengthAdjust="spacingAndGlyphs">2</text><text x="315.00" y="219.00" font-family="Liberation Sans, sans-serif" font-size="13.00" font-weight="normal" font-style="normal" fill="#a6cfe0" textLength="6.70" lengthAdjust="spacingAndGlyphs">=</text><text x="327.70" y="216.50" font-family="Liberation Sans, sans-serif" font-size="12.71" font-weight="normal" fill="#a6cfe0" textLength="26.30" lengthAdjust="spacingAndGlyphs" stroke="#a6cfe0" stroke-width="0.28" >1.01</text><text x="293.30" y="246.90" font-family="Liberation Sans, sans-serif" font-size="15.14" font-weight="normal" fill="#a6cfe0" textLength="155.20" lengthAdjust="spacingAndGlyphs" stroke="#a6cfe0" stroke-width="0.33" >RMS residual = 6.03 ms</text><text x="40.50" y="273.50" font-family="Liberation Sans, sans-serif" font-size="12.00" font-weight="normal" fill="#222" textLength="6.20" lengthAdjust="spacingAndGlyphs" stroke="#222" stroke-width="0.26" >0</text><text x="147.55" y="273.50" font-family="Liberation Sans, sans-serif" font-size="12.00" font-weight="normal" fill="#222" textLength="12.40" lengthAdjust="spacingAndGlyphs" stroke="#222" stroke-width="0.26" >10</text><text x="260.30" y="273.50" font-family="Liberation Sans, sans-serif" font-size="12.00" font-weight="normal" fill="#222" textLength="12.40" lengthAdjust="spacingAndGlyphs" stroke="#222" stroke-width="0.26" >20</text><text x="372.80" y="273.50" font-family="Liberation Sans, sans-serif" font-size="12.00" font-weight="normal" fill="#222" textLength="12.40" lengthAdjust="spacingAndGlyphs" stroke="#222" stroke-width="0.26" >30</text><text x="201.70" y="287.70" font-family="Liberation Sans, sans-serif" font-size="14.29" font-weight="normal" fill="#111" textLength="115.00" lengthAdjust="spacingAndGlyphs" stroke="#111" stroke-width="0.31" >Distance, X (km)</text><rect x="88.00" y="293" width="20.09" height="8.3" fill="#ff0000"/><rect x="107.79" y="293" width="20.09" height="8.3" fill="#ff4000"/><rect x="127.58" y="293" width="20.09" height="8.3" fill="#ff8000"/><rect x="147.37" y="293" width="20.09" height="8.3" fill="#ffbf00"/><rect x="167.16" y="293" width="20.09" height="8.3" fill="#ffff00"/><rect x="186.95" y="293" width="20.09" height="8.3" fill="#bfff00"/><rect x="206.74" y="293" width="20.09" height="8.3" fill="#80ff00"/><rect x="226.53" y="293" width="20.09" height="8.3" fill="#40ff00"/><rect x="246.32" y="293" width="20.09" height="8.3" fill="#00ff00"/><rect x="266.11" y="293" width="20.09" height="8.3" fill="#00ff40"/><rect x="285.90" y="293" width="20.09" height="8.3" fill="#00ff80"/><rect x="305.69" y="293" width="20.09" height="8.3" fill="#00ffbf"/><rect x="325.48" y="293" width="20.09" height="8.3" fill="#00ffff"/><rect x="345.27" y="293" width="20.09" height="8.3" fill="#00bfff"/><rect x="365.06" y="293" width="20.09" height="8.3" fill="#0080ff"/><rect x="384.85" y="293" width="20.09" height="8.3" fill="#0040ff"/><linearGradient id="gv" x1="0" x2="1" y1="0" y2="0"><stop offset="0" stop-color="#0000ff"/><stop offset="1" stop-color="#9900ff"/></linearGradient><rect x="404.64" y="293" width="19.79" height="8.3" fill="url(#gv)"/><rect x="88" y="293" width="336.43" height="8.3" fill="none" stroke="#555" stroke-width="0.6"/><line x1="88.00" y1="301.3" x2="88.00" y2="304" stroke="#777" stroke-width="0.6"/><text x="81.85" y="314.60" font-family="Liberation Sans, sans-serif" font-size="8.43" font-weight="normal" fill="#222" textLength="12.30" lengthAdjust="spacingAndGlyphs" stroke="#222" stroke-width="0.19" >1.3</text><line x1="107.79" y1="301.3" x2="107.79" y2="304" stroke="#777" stroke-width="0.6"/><text x="101.64" y="314.60" font-family="Liberation Sans, sans-serif" font-size="8.43" font-weight="normal" fill="#222" textLength="12.30" lengthAdjust="spacingAndGlyphs" stroke="#222" stroke-width="0.19" >1.5</text><line x1="127.58" y1="301.3" x2="127.58" y2="304" stroke="#777" stroke-width="0.6"/><text x="121.43" y="314.60" font-family="Liberation Sans, sans-serif" font-size="8.43" font-weight="normal" fill="#222" textLength="12.30" lengthAdjust="spacingAndGlyphs" stroke="#222" stroke-width="0.19" >1.7</text><line x1="147.37" y1="301.3" x2="147.37" y2="304" stroke="#777" stroke-width="0.6"/><text x="141.22" y="314.60" font-family="Liberation Sans, sans-serif" font-size="8.43" font-weight="normal" fill="#222" textLength="12.30" lengthAdjust="spacingAndGlyphs" stroke="#222" stroke-width="0.19" >1.9</text><line x1="167.16" y1="301.3" x2="167.16" y2="304" stroke="#777" stroke-width="0.6"/><text x="161.01" y="314.60" font-family="Liberation Sans, sans-serif" font-size="8.43" font-weight="normal" fill="#222" textLength="12.30" lengthAdjust="spacingAndGlyphs" stroke="#222" stroke-width="0.19" >2.1</text><line x1="186.95" y1="301.3" x2="186.95" y2="304" stroke="#777" stroke-width="0.6"/><text x="180.80" y="314.60" font-family="Liberation Sans, sans-serif" font-size="8.43" font-weight="normal" fill="#222" textLength="12.30" lengthAdjust="spacingAndGlyphs" stroke="#222" stroke-width="0.19" >2.3</text><line x1="206.74" y1="301.3" x2="206.74" y2="304" stroke="#777" stroke-width="0.6"/><text x="200.59" y="314.60" font-family="Liberation Sans, sans-serif" font-size="8.43" font-weight="normal" fill="#222" textLength="12.30" lengthAdjust="spacingAndGlyphs" stroke="#222" stroke-width="0.19" >2.5</text><line x1="226.53" y1="301.3" x2="226.53" y2="304" stroke="#777" stroke-width="0.6"/><text x="220.38" y="314.60" font-family="Liberation Sans, sans-serif" font-size="8.43" font-weight="normal" fill="#222" textLength="12.30" lengthAdjust="spacingAndGlyphs" stroke="#222" stroke-width="0.19" >2.7</text><line x1="246.32" y1="301.3" x2="246.32" y2="304" stroke="#777" stroke-width="0.6"/><text x="240.17" y="314.60" font-family="Liberation Sans, sans-serif" font-size="8.43" font-weight="normal" fill="#222" textLength="12.30" lengthAdjust="spacingAndGlyphs" stroke="#222" stroke-width="0.19" >2.9</text><line x1="266.11" y1="301.3" x2="266.11" y2="304" stroke="#777" stroke-width="0.6"/><text x="259.96" y="314.60" font-family="Liberation Sans, sans-serif" font-size="8.43" font-weight="normal" fill="#222" textLength="12.30" lengthAdjust="spacingAndGlyphs" stroke="#222" stroke-width="0.19" >3.1</text><line x1="285.90" y1="301.3" x2="285.90" y2="304" stroke="#777" stroke-width="0.6"/><text x="279.75" y="314.60" font-family="Liberation Sans, sans-serif" font-size="8.43" font-weight="normal" fill="#222" textLength="12.30" lengthAdjust="spacingAndGlyphs" stroke="#222" stroke-width="0.19" >3.3</text><line x1="305.69" y1="301.3" x2="305.69" y2="304" stroke="#777" stroke-width="0.6"/><text x="299.54" y="314.60" font-family="Liberation Sans, sans-serif" font-size="8.43" font-weight="normal" fill="#222" textLength="12.30" lengthAdjust="spacingAndGlyphs" stroke="#222" stroke-width="0.19" >3.5</text><line x1="325.48" y1="301.3" x2="325.48" y2="304" stroke="#777" stroke-width="0.6"/><text x="319.33" y="314.60" font-family="Liberation Sans, sans-serif" font-size="8.43" font-weight="normal" fill="#222" textLength="12.30" lengthAdjust="spacingAndGlyphs" stroke="#222" stroke-width="0.19" >3.7</text><line x1="345.27" y1="301.3" x2="345.27" y2="304" stroke="#777" stroke-width="0.6"/><text x="339.12" y="314.60" font-family="Liberation Sans, sans-serif" font-size="8.43" font-weight="normal" fill="#222" textLength="12.30" lengthAdjust="spacingAndGlyphs" stroke="#222" stroke-width="0.19" >3.9</text><line x1="365.06" y1="301.3" x2="365.06" y2="304" stroke="#777" stroke-width="0.6"/><text x="358.91" y="314.60" font-family="Liberation Sans, sans-serif" font-size="8.43" font-weight="normal" fill="#222" textLength="12.30" lengthAdjust="spacingAndGlyphs" stroke="#222" stroke-width="0.19" >4.1</text><line x1="384.85" y1="301.3" x2="384.85" y2="304" stroke="#777" stroke-width="0.6"/><text x="378.70" y="314.60" font-family="Liberation Sans, sans-serif" font-size="8.43" font-weight="normal" fill="#222" textLength="12.30" lengthAdjust="spacingAndGlyphs" stroke="#222" stroke-width="0.19" >4.3</text><line x1="404.64" y1="301.3" x2="404.64" y2="304" stroke="#777" stroke-width="0.6"/><text x="398.49" y="314.60" font-family="Liberation Sans, sans-serif" font-size="8.43" font-weight="normal" fill="#222" textLength="12.30" lengthAdjust="spacingAndGlyphs" stroke="#222" stroke-width="0.19" >4.5</text><line x1="424.43" y1="301.3" x2="424.43" y2="304" stroke="#777" stroke-width="0.6"/><text x="418.28" y="314.60" font-family="Liberation Sans, sans-serif" font-size="8.43" font-weight="normal" fill="#222" textLength="12.30" lengthAdjust="spacingAndGlyphs" stroke="#222" stroke-width="0.19" >5.3</text><text x="206.00" y="332.70" font-family="Liberation Sans, sans-serif" font-size="14.29" font-weight="normal" fill="#111" textLength="102.00" lengthAdjust="spacingAndGlyphs" stroke="#111" stroke-width="0.31" >Velocity (km/s)</text><line x1="35.5" y1="341.3" x2="39.5" y2="341.3" stroke="#555" stroke-width="0.8"/><text x="20.30" y="344.40" font-family="Liberation Sans, sans-serif" font-size="8.14" font-weight="normal" fill="#222" textLength="12.90" lengthAdjust="spacingAndGlyphs" stroke="#222" stroke-width="0.18" >0.0</text><line x1="35.5" y1="378.9" x2="39.5" y2="378.9" stroke="#555" stroke-width="0.8"/><text x="20.30" y="382.00" font-family="Liberation Sans, sans-serif" font-size="8.14" font-weight="normal" fill="#222" textLength="12.90" lengthAdjust="spacingAndGlyphs" stroke="#222" stroke-width="0.18" >0.5</text><line x1="35.5" y1="416.5" x2="39.5" y2="416.5" stroke="#555" stroke-width="0.8"/><text x="20.30" y="419.60" font-family="Liberation Sans, sans-serif" font-size="8.14" font-weight="normal" fill="#222" textLength="12.90" lengthAdjust="spacingAndGlyphs" stroke="#222" stroke-width="0.18" >1.0</text><line x1="35.5" y1="454.2" x2="39.5" y2="454.2" stroke="#555" stroke-width="0.8"/><text x="20.30" y="457.30" font-family="Liberation Sans, sans-serif" font-size="8.14" font-weight="normal" fill="#222" textLength="12.90" lengthAdjust="spacingAndGlyphs" stroke="#222" stroke-width="0.18" >1.5</text><line x1="37" y1="360.1" x2="39.5" y2="360.1" stroke="#777" stroke-width="0.6"/><line x1="473.75" y1="360.1" x2="476" y2="360.1" stroke="#777" stroke-width="0.6"/><line x1="37" y1="397.7" x2="39.5" y2="397.7" stroke="#777" stroke-width="0.6"/><line x1="473.75" y1="397.7" x2="476" y2="397.7" stroke="#777" stroke-width="0.6"/><line x1="37" y1="435.3" x2="39.5" y2="435.3" stroke="#777" stroke-width="0.6"/><line x1="473.75" y1="435.3" x2="476" y2="435.3" stroke="#777" stroke-width="0.6"/><line x1="473.75" y1="378.9" x2="477" y2="378.9" stroke="#777" stroke-width="0.6"/><line x1="473.75" y1="416.5" x2="477" y2="416.5" stroke="#777" stroke-width="0.6"/><line x1="473.75" y1="454.2" x2="477" y2="454.2" stroke="#777" stroke-width="0.6"/><line x1="40.20" y1="461.25" x2="40.20" y2="464.25" stroke="#555" stroke-width="0.7"/><line x1="40.20" y1="341.3" x2="40.20" y2="338.30" stroke="#555" stroke-width="0.7"/><text x="37.45" y="475.80" font-family="Liberation Sans, sans-serif" font-size="8.71" font-weight="normal" fill="#222" textLength="5.50" lengthAdjust="spacingAndGlyphs" stroke="#222" stroke-width="0.19" >0</text><line x1="51.45" y1="461.25" x2="51.45" y2="463.25" stroke="#555" stroke-width="0.7"/><line x1="51.45" y1="341.3" x2="51.45" y2="339.30" stroke="#555" stroke-width="0.7"/><line x1="62.70" y1="461.25" x2="62.70" y2="464.25" stroke="#555" stroke-width="0.7"/><line x1="62.70" y1="341.3" x2="62.70" y2="338.30" stroke="#555" stroke-width="0.7"/><text x="59.95" y="475.80" font-family="Liberation Sans, sans-serif" font-size="8.71" font-weight="normal" fill="#222" textLength="5.50" lengthAdjust="spacingAndGlyphs" stroke="#222" stroke-width="0.19" >2</text><line x1="73.95" y1="461.25" x2="73.95" y2="463.25" stroke="#555" stroke-width="0.7"/><line x1="73.95" y1="341.3" x2="73.95" y2="339.30" stroke="#555" stroke-width="0.7"/><line x1="85.20" y1="461.25" x2="85.20" y2="464.25" stroke="#555" stroke-width="0.7"/><line x1="85.20" y1="341.3" x2="85.20" y2="338.30" stroke="#555" stroke-width="0.7"/><text x="82.45" y="475.80" font-family="Liberation Sans, sans-serif" font-size="8.71" font-weight="normal" fill="#222" textLength="5.50" lengthAdjust="spacingAndGlyphs" stroke="#222" stroke-width="0.19" >4</text><line x1="96.45" y1="461.25" x2="96.45" y2="463.25" stroke="#555" stroke-width="0.7"/><line x1="96.45" y1="341.3" x2="96.45" y2="339.30" stroke="#555" stroke-width="0.7"/><line x1="107.70" y1="461.25" x2="107.70" y2="464.25" stroke="#555" stroke-width="0.7"/><line x1="107.70" y1="341.3" x2="107.70" y2="338.30" stroke="#555" stroke-width="0.7"/><text x="104.95" y="475.80" font-family="Liberation Sans, sans-serif" font-size="8.71" font-weight="normal" fill="#222" textLength="5.50" lengthAdjust="spacingAndGlyphs" stroke="#222" stroke-width="0.19" >6</text><line x1="118.95" y1="461.25" x2="118.95" y2="463.25" stroke="#555" stroke-width="0.7"/><line x1="118.95" y1="341.3" x2="118.95" y2="339.30" stroke="#555" stroke-width="0.7"/><line x1="130.20" y1="461.25" x2="130.20" y2="464.25" stroke="#555" stroke-width="0.7"/><line x1="130.20" y1="341.3" x2="130.20" y2="338.30" stroke="#555" stroke-width="0.7"/><text x="127.45" y="475.80" font-family="Liberation Sans, sans-serif" font-size="8.71" font-weight="normal" fill="#222" textLength="5.50" lengthAdjust="spacingAndGlyphs" stroke="#222" stroke-width="0.19" >8</text><line x1="141.45" y1="461.25" x2="141.45" y2="463.25" stroke="#555" stroke-width="0.7"/><line x1="141.45" y1="341.3" x2="141.45" y2="339.30" stroke="#555" stroke-width="0.7"/><line x1="152.70" y1="461.25" x2="152.70" y2="464.25" stroke="#555" stroke-width="0.7"/><line x1="152.70" y1="341.3" x2="152.70" y2="338.30" stroke="#555" stroke-width="0.7"/><text x="147.20" y="475.80" font-family="Liberation Sans, sans-serif" font-size="8.71" font-weight="normal" fill="#222" textLength="11.00" lengthAdjust="spacingAndGlyphs" stroke="#222" stroke-width="0.19" >10</text><line x1="163.95" y1="461.25" x2="163.95" y2="463.25" stroke="#555" stroke-width="0.7"/><line x1="163.95" y1="341.3" x2="163.95" y2="339.30" stroke="#555" stroke-width="0.7"/><line x1="175.20" y1="461.25" x2="175.20" y2="464.25" stroke="#555" stroke-width="0.7"/><line x1="175.20" y1="341.3" x2="175.20" y2="338.30" stroke="#555" stroke-width="0.7"/><text x="169.70" y="475.80" font-family="Liberation Sans, sans-serif" font-size="8.71" font-weight="normal" fill="#222" textLength="11.00" lengthAdjust="spacingAndGlyphs" stroke="#222" stroke-width="0.19" >12</text><line x1="186.45" y1="461.25" x2="186.45" y2="463.25" stroke="#555" stroke-width="0.7"/><line x1="186.45" y1="341.3" x2="186.45" y2="339.30" stroke="#555" stroke-width="0.7"/><line x1="197.70" y1="461.25" x2="197.70" y2="464.25" stroke="#555" stroke-width="0.7"/><line x1="197.70" y1="341.3" x2="197.70" y2="338.30" stroke="#555" stroke-width="0.7"/><text x="192.20" y="475.80" font-family="Liberation Sans, sans-serif" font-size="8.71" font-weight="normal" fill="#222" textLength="11.00" lengthAdjust="spacingAndGlyphs" stroke="#222" stroke-width="0.19" >14</text><line x1="208.95" y1="461.25" x2="208.95" y2="463.25" stroke="#555" stroke-width="0.7"/><line x1="208.95" y1="341.3" x2="208.95" y2="339.30" stroke="#555" stroke-width="0.7"/><line x1="220.20" y1="461.25" x2="220.20" y2="464.25" stroke="#555" stroke-width="0.7"/><line x1="220.20" y1="341.3" x2="220.20" y2="338.30" stroke="#555" stroke-width="0.7"/><text x="214.70" y="475.80" font-family="Liberation Sans, sans-serif" font-size="8.71" font-weight="normal" fill="#222" textLength="11.00" lengthAdjust="spacingAndGlyphs" stroke="#222" stroke-width="0.19" >16</text><line x1="231.45" y1="461.25" x2="231.45" y2="463.25" stroke="#555" stroke-width="0.7"/><line x1="231.45" y1="341.3" x2="231.45" y2="339.30" stroke="#555" stroke-width="0.7"/><line x1="242.70" y1="461.25" x2="242.70" y2="464.25" stroke="#555" stroke-width="0.7"/><line x1="242.70" y1="341.3" x2="242.70" y2="338.30" stroke="#555" stroke-width="0.7"/><text x="237.20" y="475.80" font-family="Liberation Sans, sans-serif" font-size="8.71" font-weight="normal" fill="#222" textLength="11.00" lengthAdjust="spacingAndGlyphs" stroke="#222" stroke-width="0.19" >18</text><line x1="253.95" y1="461.25" x2="253.95" y2="463.25" stroke="#555" stroke-width="0.7"/><line x1="253.95" y1="341.3" x2="253.95" y2="339.30" stroke="#555" stroke-width="0.7"/><line x1="265.20" y1="461.25" x2="265.20" y2="464.25" stroke="#555" stroke-width="0.7"/><line x1="265.20" y1="341.3" x2="265.20" y2="338.30" stroke="#555" stroke-width="0.7"/><text x="259.70" y="475.80" font-family="Liberation Sans, sans-serif" font-size="8.71" font-weight="normal" fill="#222" textLength="11.00" lengthAdjust="spacingAndGlyphs" stroke="#222" stroke-width="0.19" >20</text><line x1="276.45" y1="461.25" x2="276.45" y2="463.25" stroke="#555" stroke-width="0.7"/><line x1="276.45" y1="341.3" x2="276.45" y2="339.30" stroke="#555" stroke-width="0.7"/><line x1="287.70" y1="461.25" x2="287.70" y2="464.25" stroke="#555" stroke-width="0.7"/><line x1="287.70" y1="341.3" x2="287.70" y2="338.30" stroke="#555" stroke-width="0.7"/><text x="282.20" y="475.80" font-family="Liberation Sans, sans-serif" font-size="8.71" font-weight="normal" fill="#222" textLength="11.00" lengthAdjust="spacingAndGlyphs" stroke="#222" stroke-width="0.19" >22</text><line x1="298.95" y1="461.25" x2="298.95" y2="463.25" stroke="#555" stroke-width="0.7"/><line x1="298.95" y1="341.3" x2="298.95" y2="339.30" stroke="#555" stroke-width="0.7"/><line x1="310.20" y1="461.25" x2="310.20" y2="464.25" stroke="#555" stroke-width="0.7"/><line x1="310.20" y1="341.3" x2="310.20" y2="338.30" stroke="#555" stroke-width="0.7"/><text x="304.70" y="475.80" font-family="Liberation Sans, sans-serif" font-size="8.71" font-weight="normal" fill="#222" textLength="11.00" lengthAdjust="spacingAndGlyphs" stroke="#222" stroke-width="0.19" >24</text><line x1="321.45" y1="461.25" x2="321.45" y2="463.25" stroke="#555" stroke-width="0.7"/><line x1="321.45" y1="341.3" x2="321.45" y2="339.30" stroke="#555" stroke-width="0.7"/><line x1="332.70" y1="461.25" x2="332.70" y2="464.25" stroke="#555" stroke-width="0.7"/><line x1="332.70" y1="341.3" x2="332.70" y2="338.30" stroke="#555" stroke-width="0.7"/><text x="327.20" y="475.80" font-family="Liberation Sans, sans-serif" font-size="8.71" font-weight="normal" fill="#222" textLength="11.00" lengthAdjust="spacingAndGlyphs" stroke="#222" stroke-width="0.19" >26</text><line x1="343.95" y1="461.25" x2="343.95" y2="463.25" stroke="#555" stroke-width="0.7"/><line x1="343.95" y1="341.3" x2="343.95" y2="339.30" stroke="#555" stroke-width="0.7"/><line x1="355.20" y1="461.25" x2="355.20" y2="464.25" stroke="#555" stroke-width="0.7"/><line x1="355.20" y1="341.3" x2="355.20" y2="338.30" stroke="#555" stroke-width="0.7"/><text x="349.70" y="475.80" font-family="Liberation Sans, sans-serif" font-size="8.71" font-weight="normal" fill="#222" textLength="11.00" lengthAdjust="spacingAndGlyphs" stroke="#222" stroke-width="0.19" >28</text><line x1="366.45" y1="461.25" x2="366.45" y2="463.25" stroke="#555" stroke-width="0.7"/><line x1="366.45" y1="341.3" x2="366.45" y2="339.30" stroke="#555" stroke-width="0.7"/><line x1="377.70" y1="461.25" x2="377.70" y2="464.25" stroke="#555" stroke-width="0.7"/><line x1="377.70" y1="341.3" x2="377.70" y2="338.30" stroke="#555" stroke-width="0.7"/><text x="372.20" y="475.80" font-family="Liberation Sans, sans-serif" font-size="8.71" font-weight="normal" fill="#222" textLength="11.00" lengthAdjust="spacingAndGlyphs" stroke="#222" stroke-width="0.19" >30</text><line x1="388.95" y1="461.25" x2="388.95" y2="463.25" stroke="#555" stroke-width="0.7"/><line x1="388.95" y1="341.3" x2="388.95" y2="339.30" stroke="#555" stroke-width="0.7"/><line x1="400.20" y1="461.25" x2="400.20" y2="464.25" stroke="#555" stroke-width="0.7"/><line x1="400.20" y1="341.3" x2="400.20" y2="338.30" stroke="#555" stroke-width="0.7"/><text x="394.70" y="475.80" font-family="Liberation Sans, sans-serif" font-size="8.71" font-weight="normal" fill="#222" textLength="11.00" lengthAdjust="spacingAndGlyphs" stroke="#222" stroke-width="0.19" >32</text><line x1="411.45" y1="461.25" x2="411.45" y2="463.25" stroke="#555" stroke-width="0.7"/><line x1="411.45" y1="341.3" x2="411.45" y2="339.30" stroke="#555" stroke-width="0.7"/><line x1="422.70" y1="461.25" x2="422.70" y2="464.25" stroke="#555" stroke-width="0.7"/><line x1="422.70" y1="341.3" x2="422.70" y2="338.30" stroke="#555" stroke-width="0.7"/><text x="417.20" y="475.80" font-family="Liberation Sans, sans-serif" font-size="8.71" font-weight="normal" fill="#222" textLength="11.00" lengthAdjust="spacingAndGlyphs" stroke="#222" stroke-width="0.19" >34</text><line x1="433.95" y1="461.25" x2="433.95" y2="463.25" stroke="#555" stroke-width="0.7"/><line x1="433.95" y1="341.3" x2="433.95" y2="339.30" stroke="#555" stroke-width="0.7"/><line x1="445.20" y1="461.25" x2="445.20" y2="464.25" stroke="#555" stroke-width="0.7"/><line x1="445.20" y1="341.3" x2="445.20" y2="338.30" stroke="#555" stroke-width="0.7"/><text x="439.70" y="475.80" font-family="Liberation Sans, sans-serif" font-size="8.71" font-weight="normal" fill="#222" textLength="11.00" lengthAdjust="spacingAndGlyphs" stroke="#222" stroke-width="0.19" >36</text><line x1="456.45" y1="461.25" x2="456.45" y2="463.25" stroke="#555" stroke-width="0.7"/><line x1="456.45" y1="341.3" x2="456.45" y2="339.30" stroke="#555" stroke-width="0.7"/><line x1="467.70" y1="461.25" x2="467.70" y2="464.25" stroke="#555" stroke-width="0.7"/><line x1="467.70" y1="341.3" x2="467.70" y2="338.30" stroke="#555" stroke-width="0.7"/><text x="462.20" y="475.80" font-family="Liberation Sans, sans-serif" font-size="8.71" font-weight="normal" fill="#222" textLength="11.00" lengthAdjust="spacingAndGlyphs" stroke="#222" stroke-width="0.19" >38</text><text transform="translate(15.30,447.10) rotate(-90)" x="0" y="0" font-family="Liberation Sans, sans-serif" font-size="17.29" fill="#111" stroke="#111" stroke-width="0.38" textLength="93.80" lengthAdjust="spacingAndGlyphs">Depth, Z (km)</text><text x="41.50" y="455.50" font-family="Liberation Sans, sans-serif" font-size="10.00" font-weight="normal" fill="#222" textLength="12.00" lengthAdjust="spacingAndGlyphs" stroke="#222" stroke-width="0.22" >(c)</text><text x="200.20" y="493.10" font-family="Liberation Sans, sans-serif" font-size="15.43" font-weight="normal" fill="#111" textLength="115.80" lengthAdjust="spacingAndGlyphs" stroke="#111" stroke-width="0.34" >Distance, X (km)</text><linearGradient id="gc" x1="0" x2="1" y1="0" y2="0"><stop offset="0" stop-color="#780000"/><stop offset="0.125" stop-color="#e0000c"/><stop offset="0.125" stop-color="#f0000e"/><stop offset="0.25" stop-color="#ff3050"/><stop offset="0.25" stop-color="#ff6688"/><stop offset="0.375" stop-color="#ffa2b8"/><stop offset="0.375" stop-color="#ffc6d4"/><stop offset="0.5" stop-color="#ffffff"/><stop offset="0.625" stop-color="#d2d2fa"/><stop offset="0.625" stop-color="#b4b4f4"/><stop offset="0.75" stop-color="#7070f0"/><stop offset="0.75" stop-color="#3a3af0"/><stop offset="0.875" stop-color="#0000e4"/><stop offset="0.875" stop-color="#0000d6"/><stop offset="1" stop-color="#000070"/></linearGradient><rect x="86.5" y="498.8" width="340" height="8.7" fill="url(#gc)" stroke="#222" stroke-width="0.8"/><line x1="86.50" y1="505" x2="86.50" y2="510" stroke="#555" stroke-width="0.6"/><text x="74.50" y="521.90" font-family="Liberation Sans, sans-serif" font-size="8.43" font-weight="normal" fill="#222" textLength="24.00" lengthAdjust="spacingAndGlyphs" stroke="#222" stroke-width="0.19" >−0.24</text><line x1="129.00" y1="505" x2="129.00" y2="510" stroke="#555" stroke-width="0.6"/><text x="117.00" y="521.90" font-family="Liberation Sans, sans-serif" font-size="8.43" font-weight="normal" fill="#222" textLength="24.00" lengthAdjust="spacingAndGlyphs" stroke="#222" stroke-width="0.19" >−0.18</text><line x1="171.50" y1="505" x2="171.50" y2="510" stroke="#555" stroke-width="0.6"/><text x="159.50" y="521.90" font-family="Liberation Sans, sans-serif" font-size="8.43" font-weight="normal" fill="#222" textLength="24.00" lengthAdjust="spacingAndGlyphs" stroke="#222" stroke-width="0.19" >−0.12</text><line x1="214.00" y1="505" x2="214.00" y2="510" stroke="#555" stroke-width="0.6"/><text x="202.00" y="521.90" font-family="Liberation Sans, sans-serif" font-size="8.43" font-weight="normal" fill="#222" textLength="24.00" lengthAdjust="spacingAndGlyphs" stroke="#222" stroke-width="0.19" >−0.06</text><line x1="256.50" y1="505" x2="256.50" y2="510" stroke="#555" stroke-width="0.6"/><text x="247.35" y="521.90" font-family="Liberation Sans, sans-serif" font-size="8.43" font-weight="normal" fill="#222" textLength="18.30" lengthAdjust="spacingAndGlyphs" stroke="#222" stroke-width="0.19" >0.00</text><line x1="299.00" y1="505" x2="299.00" y2="510" stroke="#555" stroke-width="0.6"/><text x="289.85" y="521.90" font-family="Liberation Sans, sans-serif" font-size="8.43" font-weight="normal" fill="#222" textLength="18.30" lengthAdjust="spacingAndGlyphs" stroke="#222" stroke-width="0.19" >0.06</text><line x1="341.50" y1="505" x2="341.50" y2="510" stroke="#555" stroke-width="0.6"/><text x="332.35" y="521.90" font-family="Liberation Sans, sans-serif" font-size="8.43" font-weight="normal" fill="#222" textLength="18.30" lengthAdjust="spacingAndGlyphs" stroke="#222" stroke-width="0.19" >0.12</text><line x1="384.00" y1="505" x2="384.00" y2="510" stroke="#555" stroke-width="0.6"/><text x="374.85" y="521.90" font-family="Liberation Sans, sans-serif" font-size="8.43" font-weight="normal" fill="#222" textLength="18.30" lengthAdjust="spacingAndGlyphs" stroke="#222" stroke-width="0.19" >0.18</text><line x1="426.50" y1="505" x2="426.50" y2="510" stroke="#555" stroke-width="0.6"/><text x="417.35" y="521.90" font-family="Liberation Sans, sans-serif" font-size="8.43" font-weight="normal" fill="#222" textLength="18.30" lengthAdjust="spacingAndGlyphs" stroke="#222" stroke-width="0.19" >0.24</text><text x="205.20" y="542.30" font-family="Liberation Sans, sans-serif" font-size="16.57" font-weight="normal" fill="#111" textLength="102.80" lengthAdjust="spacingAndGlyphs" stroke="#111" stroke-width="0.36" >Velocity (km/s)</text></svg></body></html>
